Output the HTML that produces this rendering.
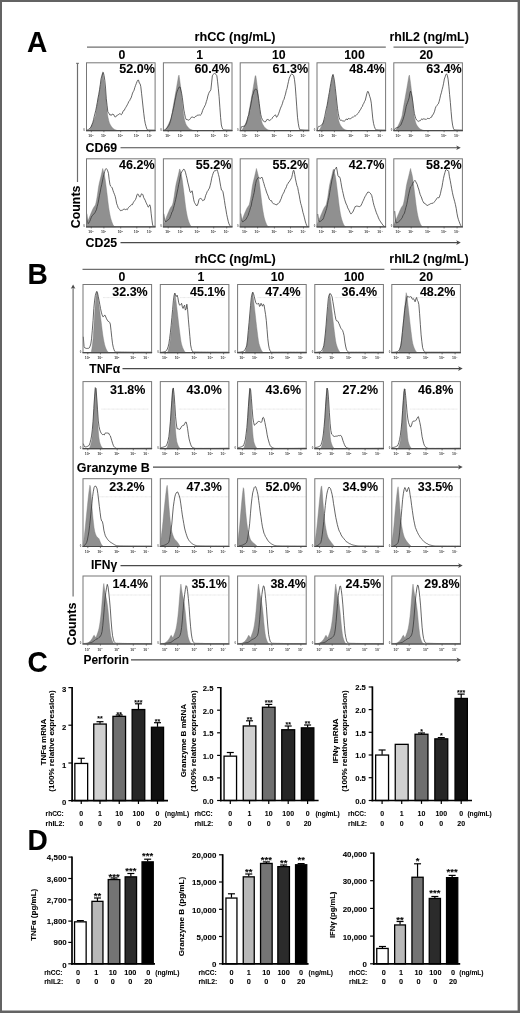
<!DOCTYPE html>
<html lang="en"><head><meta charset="utf-8"><title>Figure</title>
<style>html,body{margin:0;padding:0;background:#fff}body{width:520px;height:1013px;overflow:hidden}svg{display:block;font-family:"Liberation Sans",sans-serif;font-weight:bold}text{stroke:#000;stroke-width:.07px}.t{stroke:none}</style></head><body>
<svg width="520" height="1013" viewBox="0 0 520 1013">
<rect x="0" y="0" width="520" height="1013" fill="#fff"/>
<path d="M0 0H520V1013H0Z M2 2V1010.5H517.6V2Z" fill="#636363" fill-rule="evenodd"/>
<text x="27" y="51.6" font-size="29.5" textLength="20.3" lengthAdjust="spacingAndGlyphs">A</text>
<text x="27.6" y="283.7" font-size="29.5" textLength="20.3" lengthAdjust="spacingAndGlyphs">B</text>
<text x="27.6" y="672.3" font-size="29.5" textLength="20.3" lengthAdjust="spacingAndGlyphs">C</text>
<text x="27.6" y="850.2" font-size="29.5" textLength="20.3" lengthAdjust="spacingAndGlyphs">D</text>
<line x1="87" y1="47.1" x2="385.8" y2="47.1" stroke="#4a4a4a" stroke-width="1"/>
<line x1="393.5" y1="47.1" x2="463.5" y2="47.1" stroke="#4a4a4a" stroke-width="1"/>
<text x="194.5" y="40.6" font-size="12.5" textLength="81" lengthAdjust="spacingAndGlyphs">rhCC (ng/mL)</text>
<text x="389.5" y="40.6" font-size="12.5" textLength="79.3" lengthAdjust="spacingAndGlyphs">rhIL2 (ng/mL)</text>
<text x="122" y="59.2" font-size="12.3" text-anchor="middle">0</text>
<text x="199.6" y="59.2" font-size="12.3" text-anchor="middle">1</text>
<text x="278.8" y="59.2" font-size="12.3" text-anchor="middle">10</text>
<text x="354.5" y="59.2" font-size="12.3" text-anchor="middle">100</text>
<text x="426.3" y="59.2" font-size="12.3" text-anchor="middle">20</text>
<g>
<path d="M86.5 130.6 L87.1 130.6 L87.7 130.6 L88.3 130.59 L88.9 130.25 L89.5 129.49 L90.1 128.46 L90.7 127.28 L91.3 126.09 L91.9 124.95 L92.5 123.68 L93.1 122.28 L93.7 120.76 L94.3 119.16 L94.9 117.52 L95.5 115.45 L96.1 111.77 L96.7 107.59 L97.3 104.01 L97.9 100.58 L98.5 97.09 L99.1 93.58 L99.7 90.07 L100.3 86.48 L100.9 82.78 L101.5 79.03 L102.1 75.34 L102.7 71.8 L103.3 75.4 L103.9 79.68 L104.5 84.49 L105.1 89.91 L105.7 96.16 L106.3 102.56 L106.9 108.84 L107.5 114.37 L108.1 117.69 L108.7 120.38 L109.3 122.48 L109.9 124 L110.5 125.08 L111.1 126.04 L111.7 126.88 L112.3 127.62 L112.9 128.24 L113.5 128.75 L114.1 129.16 L114.7 129.47 L115.3 129.73 L115.9 129.98 L116.5 130.2 L117.1 130.37 L117.7 130.51 L118.3 130.58 L118.3 130.6 L86.5 130.6 Z" fill="#909090" stroke="#777" stroke-width="0.4"/>
<path d="M86.8 129.55 L87.55 129.88 L88.3 129.53 L89.05 129.01 L89.8 128.24 L90.55 127.48 L91.3 126.44 L92.05 124.36 L92.8 122.53 L93.55 119.68 L94.3 116.2 L95.05 113.2 L95.8 110.25 L96.55 106.39 L97.3 102.44 L98.05 97.83 L98.8 94.26 L99.55 89.7 L100.3 84.47 L101.05 78.69 L101.8 76.07 L102.55 73.68 L103.3 72.48 L104.05 75.45 L104.8 80.21 L105.55 88.05 L106.3 98.77 L107.05 105.21 L107.8 111.52 L108.55 112.79 L109.3 113.89 L110.05 115.3 L110.8 114.62 L111.55 115.23 L112.3 114.02 L113.05 114.37 L113.8 114.67 L114.55 116.47 L115.3 117.11 L116.05 116.12 L116.8 115.86 L117.55 114.91 L118.3 114.71 L119.05 113.95 L119.8 113.76 L120.55 114.08 L121.3 114.72 L122.05 113.86 L122.8 111.92 L123.55 110.55 L124.3 110.33 L125.05 108.63 L125.8 107.39 L126.55 106.18 L127.3 104.74 L128.05 103.33 L128.8 101.53 L129.55 100.78 L130.3 99.08 L131.05 97.94 L131.8 95.64 L132.55 93.09 L133.3 91.62 L134.05 90.24 L134.8 87.54 L135.55 85.45 L136.3 83.54 L137.05 81.56 L137.8 80.18 L138.55 80.14 L139.3 83.2 L140.05 83.59 L140.8 86.65 L141.55 93.28 L142.3 100.06 L143.05 107.09 L143.8 113.7 L144.55 119.68 L145.3 123.76 L146.05 126.37 L146.8 128.86 L147.55 129.98 L148.3 130.03 L149.05 130.02 L149.8 130.05 L150.55 130.06 L151.3 130.07 L152.05 130.11 L152.8 130.12 L153.55 130.11 L154.3 130.11 L155.05 130.11" fill="none" stroke="#333" stroke-width="0.75" stroke-linejoin="round"/>
<rect x="86.5" y="62.8" width="68.6" height="67.8" fill="none" stroke="#777" stroke-width="1"/>
<line x1="91.3" y1="130.6" x2="91.3" y2="132.2" stroke="#444" stroke-width="0.7"/>
<text class="t" x="90.9" y="137.2" font-size="3.5" fill="#3c3c3c" text-anchor="middle">10<tspan dy="-1.4" font-size="2.4">0</tspan></text>
<line x1="103.9" y1="130.6" x2="103.9" y2="132.2" stroke="#444" stroke-width="0.7"/>
<text class="t" x="103.5" y="137.2" font-size="3.5" fill="#3c3c3c" text-anchor="middle">10<tspan dy="-1.4" font-size="2.4">1</tspan></text>
<line x1="120.7" y1="130.6" x2="120.7" y2="132.2" stroke="#444" stroke-width="0.7"/>
<text class="t" x="120.3" y="137.2" font-size="3.5" fill="#3c3c3c" text-anchor="middle">10<tspan dy="-1.4" font-size="2.4">2</tspan></text>
<line x1="136.8" y1="130.6" x2="136.8" y2="132.2" stroke="#444" stroke-width="0.7"/>
<text class="t" x="136.4" y="137.2" font-size="3.5" fill="#3c3c3c" text-anchor="middle">10<tspan dy="-1.4" font-size="2.4">3</tspan></text>
<line x1="149.8" y1="130.6" x2="149.8" y2="132.2" stroke="#444" stroke-width="0.7"/>
<text class="t" x="149.4" y="137.2" font-size="3.5" fill="#3c3c3c" text-anchor="middle">10<tspan dy="-1.4" font-size="2.4">4</tspan></text>
<text class="t" x="84.9" y="130.8" font-size="2.8" fill="#555" text-anchor="end">0</text>
<line x1="86" y1="130.6" x2="155.6" y2="130.6" stroke="#4a4a4a" stroke-width="1.2"/>
</g>
<text x="154.9" y="73" font-size="12.3" text-anchor="end" textLength="35.6" lengthAdjust="spacingAndGlyphs">52.0%</text>
<g>
<path d="M163.4 130.6 L164 130.6 L164.6 130.53 L165.2 130.06 L165.8 129.23 L166.4 128.18 L167 127.04 L167.6 125.94 L168.2 124.81 L168.8 123.55 L169.4 122.17 L170 120.69 L170.6 119.16 L171.2 117.51 L171.8 115.23 L172.4 111.14 L173 107.44 L173.6 104.09 L174.2 100.8 L174.8 97.45 L175.4 94.1 L176 90.73 L176.6 87.27 L177.2 83.7 L177.8 80.13 L178.4 76.55 L179 75.09 L179.6 79.15 L180.2 83.41 L180.8 88.17 L181.4 93.65 L182 99.69 L182.6 105.88 L183.2 111.69 L183.8 116.25 L184.4 119.18 L185 121.56 L185.6 123.39 L186.2 124.65 L186.8 125.64 L187.4 126.52 L188 127.29 L188.6 127.96 L189.2 128.52 L189.8 128.98 L190.4 129.33 L191 129.6 L191.6 129.85 L192.2 130.08 L192.8 130.27 L193.4 130.43 L194 130.54 L194.6 130.6 L194.6 130.6 L163.4 130.6 Z" fill="#909090" stroke="#777" stroke-width="0.4"/>
<path d="M163.6 129.3 L164.35 129.9 L165.1 129.55 L165.85 129.04 L166.6 128.48 L167.35 127.56 L168.1 126.48 L168.85 125.4 L169.6 123.63 L170.35 121.52 L171.1 118.68 L171.85 114.88 L172.6 112.34 L173.35 108.77 L174.1 105.67 L174.85 101.15 L175.6 97.82 L176.35 93.87 L177.1 91.55 L177.85 89.5 L178.6 87.98 L179.35 86.93 L180.1 87.03 L180.85 90.03 L181.6 93.21 L182.35 97.76 L183.1 103.81 L183.85 109.9 L184.6 113.67 L185.35 117.37 L186.1 119.46 L186.85 119.59 L187.6 119.73 L188.35 120.12 L189.1 120.01 L189.85 119.25 L190.6 118.33 L191.35 117.22 L192.1 116.85 L192.85 117.25 L193.6 117.48 L194.35 117.7 L195.1 116.87 L195.85 116.04 L196.6 116.12 L197.35 115.19 L198.1 114.76 L198.85 115.44 L199.6 114.95 L200.35 115.21 L201.1 114.55 L201.85 112.9 L202.6 110.53 L203.35 108.71 L204.1 107.36 L204.85 105.82 L205.6 104.34 L206.35 101.54 L207.1 99.33 L207.85 95.96 L208.6 93.67 L209.35 91.97 L210.1 91 L210.85 89.81 L211.6 82.94 L212.35 75.83 L213.1 74.67 L213.85 73.84 L214.6 72.98 L215.35 73.72 L216.1 74.84 L216.85 75.71 L217.6 81.8 L218.35 88.84 L219.1 96.71 L219.85 107.18 L220.6 117.35 L221.35 124.97 L222.1 127.58 L222.85 129.29 L223.6 129.81 L224.35 129.89 L225.1 129.9 L225.85 129.96 L226.6 130.01 L227.35 130.04 L228.1 130.03 L228.85 130.08 L229.6 130.08 L230.35 130.1 L231.1 130.1 L231.85 130.12" fill="none" stroke="#333" stroke-width="0.75" stroke-linejoin="round"/>
<rect x="163.4" y="62.8" width="68.6" height="67.8" fill="none" stroke="#777" stroke-width="1"/>
<line x1="168.2" y1="130.6" x2="168.2" y2="132.2" stroke="#444" stroke-width="0.7"/>
<text class="t" x="167.8" y="137.2" font-size="3.5" fill="#3c3c3c" text-anchor="middle">10<tspan dy="-1.4" font-size="2.4">0</tspan></text>
<line x1="180.8" y1="130.6" x2="180.8" y2="132.2" stroke="#444" stroke-width="0.7"/>
<text class="t" x="180.4" y="137.2" font-size="3.5" fill="#3c3c3c" text-anchor="middle">10<tspan dy="-1.4" font-size="2.4">1</tspan></text>
<line x1="197.6" y1="130.6" x2="197.6" y2="132.2" stroke="#444" stroke-width="0.7"/>
<text class="t" x="197.2" y="137.2" font-size="3.5" fill="#3c3c3c" text-anchor="middle">10<tspan dy="-1.4" font-size="2.4">2</tspan></text>
<line x1="213.7" y1="130.6" x2="213.7" y2="132.2" stroke="#444" stroke-width="0.7"/>
<text class="t" x="213.3" y="137.2" font-size="3.5" fill="#3c3c3c" text-anchor="middle">10<tspan dy="-1.4" font-size="2.4">3</tspan></text>
<line x1="226.7" y1="130.6" x2="226.7" y2="132.2" stroke="#444" stroke-width="0.7"/>
<text class="t" x="226.3" y="137.2" font-size="3.5" fill="#3c3c3c" text-anchor="middle">10<tspan dy="-1.4" font-size="2.4">4</tspan></text>
<text class="t" x="161.8" y="130.8" font-size="2.8" fill="#555" text-anchor="end">0</text>
<line x1="162.9" y1="130.6" x2="232.5" y2="130.6" stroke="#4a4a4a" stroke-width="1.2"/>
</g>
<text x="230" y="73" font-size="12.3" text-anchor="end" textLength="35.6" lengthAdjust="spacingAndGlyphs">60.4%</text>
<g>
<path d="M240.2 130.6 L240.8 130.6 L241.4 130.49 L242 129.94 L242.6 129.07 L243.2 128 L243.8 126.85 L244.4 125.76 L245 124.61 L245.6 123.33 L246.2 121.93 L246.8 120.44 L247.4 118.9 L248 117.2 L248.6 114.66 L249.2 110.45 L249.8 106.87 L250.4 103.54 L251 100.25 L251.6 96.89 L252.2 93.54 L252.8 90.16 L253.4 86.68 L254 83.1 L254.6 79.54 L255.2 75.81 L255.8 75.77 L256.4 79.82 L257 84.17 L257.6 89.01 L258.2 94.65 L258.8 100.69 L259.4 106.9 L260 112.62 L260.6 116.78 L261.2 119.62 L261.8 121.91 L262.4 123.64 L263 124.82 L263.6 125.8 L264.2 126.66 L264.8 127.41 L265.4 128.06 L266 128.6 L266.6 129.04 L267.2 129.38 L267.8 129.65 L268.4 129.89 L269 130.11 L269.6 130.3 L270.2 130.45 L270.8 130.56 L271.4 130.6 L271.4 130.6 L240.2 130.6 Z" fill="#909090" stroke="#777" stroke-width="0.4"/>
<path d="M240.5 130 L241.25 126.92 L242 126.52 L242.75 126.57 L243.5 126.32 L244.25 126.3 L245 125.74 L245.75 124.46 L246.5 122.9 L247.25 119.87 L248 116.5 L248.75 114.9 L249.5 110.52 L250.25 107.83 L251 103.88 L251.75 99.58 L252.5 95.47 L253.25 93.84 L254 90.88 L254.75 89.66 L255.5 89.24 L256.25 89.21 L257 89.93 L257.75 93.93 L258.5 98.26 L259.25 103.6 L260 109.47 L260.75 114.49 L261.5 117.49 L262.25 119.24 L263 120.74 L263.75 121.18 L264.5 121.7 L265.25 121.98 L266 121.03 L266.75 119.92 L267.5 118.98 L268.25 119.93 L269 120.24 L269.75 120.5 L270.5 119.81 L271.25 119.33 L272 118.59 L272.75 117.13 L273.5 116.5 L274.25 115.75 L275 114.79 L275.75 115.29 L276.5 117.23 L277.25 116.62 L278 115.15 L278.75 113.26 L279.5 111.14 L280.25 108.85 L281 106.99 L281.75 105.39 L282.5 103.25 L283.25 100.5 L284 99.34 L284.75 96.48 L285.5 94.15 L286.25 90.65 L287 88.49 L287.75 84.72 L288.5 81.41 L289.25 78.17 L290 76.48 L290.75 74.73 L291.5 74.04 L292.25 74.4 L293 74.69 L293.75 75.82 L294.5 79.61 L295.25 86.12 L296 96.23 L296.75 106.88 L297.5 117.22 L298.25 123.21 L299 127.33 L299.75 129.6 L300.5 129.73 L301.25 129.78 L302 129.84 L302.75 129.92 L303.5 129.95 L304.25 130.02 L305 130.04 L305.75 130.08 L306.5 130.09 L307.25 130.08 L308 130.11 L308.75 130.11" fill="none" stroke="#333" stroke-width="0.75" stroke-linejoin="round"/>
<rect x="240.2" y="62.8" width="68.6" height="67.8" fill="none" stroke="#777" stroke-width="1"/>
<line x1="245" y1="130.6" x2="245" y2="132.2" stroke="#444" stroke-width="0.7"/>
<text class="t" x="244.6" y="137.2" font-size="3.5" fill="#3c3c3c" text-anchor="middle">10<tspan dy="-1.4" font-size="2.4">0</tspan></text>
<line x1="257.6" y1="130.6" x2="257.6" y2="132.2" stroke="#444" stroke-width="0.7"/>
<text class="t" x="257.2" y="137.2" font-size="3.5" fill="#3c3c3c" text-anchor="middle">10<tspan dy="-1.4" font-size="2.4">1</tspan></text>
<line x1="274.4" y1="130.6" x2="274.4" y2="132.2" stroke="#444" stroke-width="0.7"/>
<text class="t" x="274" y="137.2" font-size="3.5" fill="#3c3c3c" text-anchor="middle">10<tspan dy="-1.4" font-size="2.4">2</tspan></text>
<line x1="290.5" y1="130.6" x2="290.5" y2="132.2" stroke="#444" stroke-width="0.7"/>
<text class="t" x="290.1" y="137.2" font-size="3.5" fill="#3c3c3c" text-anchor="middle">10<tspan dy="-1.4" font-size="2.4">3</tspan></text>
<line x1="303.5" y1="130.6" x2="303.5" y2="132.2" stroke="#444" stroke-width="0.7"/>
<text class="t" x="303.1" y="137.2" font-size="3.5" fill="#3c3c3c" text-anchor="middle">10<tspan dy="-1.4" font-size="2.4">4</tspan></text>
<text class="t" x="238.6" y="130.8" font-size="2.8" fill="#555" text-anchor="end">0</text>
<line x1="239.7" y1="130.6" x2="309.3" y2="130.6" stroke="#4a4a4a" stroke-width="1.2"/>
</g>
<text x="308.2" y="73" font-size="12.3" text-anchor="end" textLength="35.6" lengthAdjust="spacingAndGlyphs">61.3%</text>
<g>
<path d="M317 130.6 L317.6 130.6 L318.2 130.6 L318.8 130.42 L319.4 129.81 L320 128.89 L320.6 127.79 L321.2 126.64 L321.8 125.55 L322.4 124.38 L323 123.07 L323.6 121.64 L324.2 120.13 L324.8 118.58 L325.4 116.79 L326 113.93 L326.6 109.69 L327.2 106.18 L327.8 102.85 L328.4 99.52 L329 96.15 L329.6 92.78 L330.2 89.37 L330.8 85.85 L331.4 82.25 L332 78.67 L332.6 74.82 L333.2 76.23 L333.8 80.24 L334.4 84.7 L335 89.66 L335.6 95.47 L336.2 101.56 L336.8 107.78 L337.4 113.43 L338 117.22 L338.6 119.98 L339.2 122.19 L339.8 123.83 L340.4 124.96 L341 125.92 L341.6 126.77 L342.2 127.51 L342.8 128.14 L343.4 128.67 L344 129.1 L344.6 129.43 L345.2 129.68 L345.8 129.93 L346.4 130.15 L347 130.33 L347.6 130.47 L348.2 130.57 L348.8 130.6 L348.8 130.6 L317 130.6 Z" fill="#909090" stroke="#777" stroke-width="0.4"/>
<path d="M317.3 129.99 L318.05 127.16 L318.8 126.29 L319.55 126.34 L320.3 125.93 L321.05 125.42 L321.8 124.92 L322.55 124.06 L323.3 122.23 L324.05 119.21 L324.8 116.13 L325.55 112.08 L326.3 108.53 L327.05 105.57 L327.8 101.17 L328.55 96.51 L329.3 92.58 L330.05 87.78 L330.8 83.49 L331.55 79.48 L332.3 76.31 L333.05 74.41 L333.8 77.43 L334.55 81.9 L335.3 88.26 L336.05 94.73 L336.8 102 L337.55 108.69 L338.3 113.84 L339.05 117.41 L339.8 119.28 L340.55 120.43 L341.3 120.19 L342.05 120.54 L342.8 121.03 L343.55 120.98 L344.3 121.41 L345.05 120.45 L345.8 119.36 L346.55 118.98 L347.3 119.97 L348.05 118.66 L348.8 118.51 L349.55 118.77 L350.3 118.75 L351.05 118.4 L351.8 117.67 L352.55 117.15 L353.3 117.27 L354.05 116.52 L354.8 115.45 L355.55 115.92 L356.3 115.22 L357.05 114.24 L357.8 113.52 L358.55 112.83 L359.3 111.43 L360.05 109.98 L360.8 109.28 L361.55 107.35 L362.3 106.59 L363.05 104.43 L363.8 103.27 L364.55 101.45 L365.3 100.13 L366.05 96.97 L366.8 93.77 L367.55 91.5 L368.3 91.67 L369.05 94.05 L369.8 96.68 L370.55 98.88 L371.3 103.18 L372.05 111.08 L372.8 118.79 L373.55 123.42 L374.3 126.38 L375.05 128.34 L375.8 129.72 L376.55 129.84 L377.3 129.84 L378.05 129.94 L378.8 129.97 L379.55 129.99 L380.3 130.04 L381.05 130.07 L381.8 130.06 L382.55 130.08 L383.3 130.08 L384.05 130.08 L384.8 130.1 L385.55 130.11" fill="none" stroke="#333" stroke-width="0.75" stroke-linejoin="round"/>
<rect x="317" y="62.8" width="68.6" height="67.8" fill="none" stroke="#777" stroke-width="1"/>
<line x1="321.8" y1="130.6" x2="321.8" y2="132.2" stroke="#444" stroke-width="0.7"/>
<text class="t" x="321.4" y="137.2" font-size="3.5" fill="#3c3c3c" text-anchor="middle">10<tspan dy="-1.4" font-size="2.4">0</tspan></text>
<line x1="334.4" y1="130.6" x2="334.4" y2="132.2" stroke="#444" stroke-width="0.7"/>
<text class="t" x="334" y="137.2" font-size="3.5" fill="#3c3c3c" text-anchor="middle">10<tspan dy="-1.4" font-size="2.4">1</tspan></text>
<line x1="351.2" y1="130.6" x2="351.2" y2="132.2" stroke="#444" stroke-width="0.7"/>
<text class="t" x="350.8" y="137.2" font-size="3.5" fill="#3c3c3c" text-anchor="middle">10<tspan dy="-1.4" font-size="2.4">2</tspan></text>
<line x1="367.3" y1="130.6" x2="367.3" y2="132.2" stroke="#444" stroke-width="0.7"/>
<text class="t" x="366.9" y="137.2" font-size="3.5" fill="#3c3c3c" text-anchor="middle">10<tspan dy="-1.4" font-size="2.4">3</tspan></text>
<line x1="380.3" y1="130.6" x2="380.3" y2="132.2" stroke="#444" stroke-width="0.7"/>
<text class="t" x="379.9" y="137.2" font-size="3.5" fill="#3c3c3c" text-anchor="middle">10<tspan dy="-1.4" font-size="2.4">4</tspan></text>
<text class="t" x="315.4" y="130.8" font-size="2.8" fill="#555" text-anchor="end">0</text>
<line x1="316.5" y1="130.6" x2="386.1" y2="130.6" stroke="#4a4a4a" stroke-width="1.2"/>
</g>
<text x="384.8" y="73" font-size="12.3" text-anchor="end" textLength="35.6" lengthAdjust="spacingAndGlyphs">48.4%</text>
<g>
<path d="M393.8 130.6 L394.4 130.6 L395 130.53 L395.6 130.06 L396.2 129.23 L396.8 128.18 L397.4 127.04 L398 125.94 L398.6 124.81 L399.2 123.55 L399.8 122.17 L400.4 120.69 L401 119.16 L401.6 117.51 L402.2 115.23 L402.8 111.14 L403.4 107.44 L404 104.09 L404.6 100.8 L405.2 97.45 L405.8 94.1 L406.4 90.73 L407 87.27 L407.6 83.7 L408.2 80.13 L408.8 76.55 L409.4 75.09 L410 79.15 L410.6 83.41 L411.2 88.17 L411.8 93.65 L412.4 99.69 L413 105.88 L413.6 111.69 L414.2 116.25 L414.8 119.18 L415.4 121.56 L416 123.39 L416.6 124.65 L417.2 125.64 L417.8 126.52 L418.4 127.29 L419 127.96 L419.6 128.52 L420.2 128.98 L420.8 129.33 L421.4 129.6 L422 129.85 L422.6 130.08 L423.2 130.27 L423.8 130.43 L424.4 130.54 L425 130.6 L425 130.6 L393.8 130.6 Z" fill="#909090" stroke="#777" stroke-width="0.4"/>
<path d="M394.1 129.99 L394.85 128.65 L395.6 128.29 L396.35 127.77 L397.1 127.65 L397.85 127.57 L398.6 127.11 L399.35 126.54 L400.1 125.78 L400.85 124.97 L401.6 123.13 L402.35 121.32 L403.1 119.32 L403.85 116.74 L404.6 114.11 L405.35 110.77 L406.1 106.76 L406.85 104.34 L407.6 102.5 L408.35 100.32 L409.1 97.92 L409.85 93.23 L410.6 91.09 L411.35 93.5 L412.1 96.99 L412.85 102.07 L413.6 108.13 L414.35 113.48 L415.1 116.2 L415.85 118.58 L416.6 120.06 L417.35 120.7 L418.1 120.96 L418.85 121.49 L419.6 120.75 L420.35 120.63 L421.1 119.78 L421.85 118.7 L422.6 119.59 L423.35 118.85 L424.1 119.29 L424.85 118.89 L425.6 119.34 L426.35 119.41 L427.1 118.62 L427.85 118.26 L428.6 118.55 L429.35 118.63 L430.1 117.87 L430.85 117.4 L431.6 117.17 L432.35 115.13 L433.1 114.73 L433.85 113.06 L434.6 111.2 L435.35 108.23 L436.1 106.48 L436.85 105.73 L437.6 104.45 L438.35 103.81 L439.1 101.6 L439.85 98.63 L440.6 95.17 L441.35 92.8 L442.1 89.59 L442.85 86.82 L443.6 83.23 L444.35 79.03 L445.1 76.94 L445.85 74.75 L446.6 73.81 L447.35 75.41 L448.1 79.22 L448.85 86.18 L449.6 94.59 L450.35 102.34 L451.1 111.47 L451.85 119.86 L452.6 125.14 L453.35 128.24 L454.1 129.79 L454.85 129.79 L455.6 129.9 L456.35 129.94 L457.1 129.99 L457.85 130.02 L458.6 130.04 L459.35 130.08 L460.1 130.11 L460.85 130.05 L461.6 130.09 L462.35 130.1" fill="none" stroke="#333" stroke-width="0.75" stroke-linejoin="round"/>
<rect x="393.8" y="62.8" width="68.6" height="67.8" fill="none" stroke="#777" stroke-width="1"/>
<line x1="398.6" y1="130.6" x2="398.6" y2="132.2" stroke="#444" stroke-width="0.7"/>
<text class="t" x="398.2" y="137.2" font-size="3.5" fill="#3c3c3c" text-anchor="middle">10<tspan dy="-1.4" font-size="2.4">0</tspan></text>
<line x1="411.2" y1="130.6" x2="411.2" y2="132.2" stroke="#444" stroke-width="0.7"/>
<text class="t" x="410.8" y="137.2" font-size="3.5" fill="#3c3c3c" text-anchor="middle">10<tspan dy="-1.4" font-size="2.4">1</tspan></text>
<line x1="428" y1="130.6" x2="428" y2="132.2" stroke="#444" stroke-width="0.7"/>
<text class="t" x="427.6" y="137.2" font-size="3.5" fill="#3c3c3c" text-anchor="middle">10<tspan dy="-1.4" font-size="2.4">2</tspan></text>
<line x1="444.1" y1="130.6" x2="444.1" y2="132.2" stroke="#444" stroke-width="0.7"/>
<text class="t" x="443.7" y="137.2" font-size="3.5" fill="#3c3c3c" text-anchor="middle">10<tspan dy="-1.4" font-size="2.4">3</tspan></text>
<line x1="457.1" y1="130.6" x2="457.1" y2="132.2" stroke="#444" stroke-width="0.7"/>
<text class="t" x="456.7" y="137.2" font-size="3.5" fill="#3c3c3c" text-anchor="middle">10<tspan dy="-1.4" font-size="2.4">4</tspan></text>
<text class="t" x="392.2" y="130.8" font-size="2.8" fill="#555" text-anchor="end">0</text>
<line x1="393.3" y1="130.6" x2="462.9" y2="130.6" stroke="#4a4a4a" stroke-width="1.2"/>
</g>
<text x="461.8" y="73" font-size="12.3" text-anchor="end" textLength="35.6" lengthAdjust="spacingAndGlyphs">63.4%</text>
<text x="85.6" y="152.3" font-size="12.3" textLength="31.5" lengthAdjust="spacingAndGlyphs">CD69</text>
<line x1="120.5" y1="147.7" x2="458.3" y2="147.7" stroke="#4a4a4a" stroke-width="1.1"/>
<path d="M460.8 147.7L456.2 145.4L457.4 147.7L456.2 150Z" fill="#4a4a4a"/>
<g>
<path d="M86.5 224.8 L87.1 223.17 L87.7 221.57 L88.3 220 L88.9 218.47 L89.5 216.97 L90.1 215.51 L90.7 214.07 L91.3 212.61 L91.9 211.18 L92.5 209.81 L93.1 208.55 L93.7 207.43 L94.3 206.58 L94.9 205.85 L95.5 204.64 L96.1 202.28 L96.7 199.31 L97.3 195.69 L97.9 191.4 L98.5 187.23 L99.1 183.94 L99.7 181.33 L100.3 179 L100.9 176.62 L101.5 174.03 L102.1 171.38 L102.7 168.49 L103.3 170.64 L103.9 172.97 L104.5 175.41 L105.1 178.88 L105.7 183.28 L106.3 188.1 L106.9 192.82 L107.5 197.79 L108.1 202.9 L108.7 207.53 L109.3 211.25 L109.9 214.54 L110.5 217.38 L111.1 219.6 L111.7 221.42 L112.3 223.07 L112.9 224.47 L113.5 225.53 L114.1 226.18 L114.7 226.61 L115.3 226.8 L115.3 226.8 L86.5 226.8 Z" fill="#909090" stroke="#777" stroke-width="0.4"/>
<path d="M86.7 213.7 L87.45 221.23 L88.2 223.64 L88.95 222.8 L89.7 221.43 L90.45 219.62 L91.2 217.58 L91.95 215.96 L92.7 215.27 L93.45 214.32 L94.2 213.76 L94.95 212.66 L95.7 211.18 L96.45 209.7 L97.2 206.42 L97.95 203.61 L98.7 199.9 L99.45 195.3 L100.2 192.21 L100.95 187.85 L101.7 184.71 L102.45 181.04 L103.2 177.23 L103.95 174.44 L104.7 171.47 L105.45 169.32 L106.2 168.51 L106.95 169.34 L107.7 170.82 L108.45 173.31 L109.2 179.68 L109.95 184.45 L110.7 186.27 L111.45 186.95 L112.2 187.85 L112.95 190.32 L113.7 192.48 L114.45 194.27 L115.2 196.32 L115.95 199.74 L116.7 203.81 L117.45 205.5 L118.2 207.8 L118.95 208.78 L119.7 209.59 L120.45 210.73 L121.2 210.35 L121.95 210.5 L122.7 210.11 L123.45 209.26 L124.2 209.13 L124.95 209.27 L125.7 209.65 L126.45 209.18 L127.2 209.8 L127.95 208.39 L128.7 207.32 L129.45 206.52 L130.2 205.94 L130.95 205.5 L131.7 204.42 L132.45 204.62 L133.2 202.79 L133.95 201.6 L134.7 200.64 L135.45 199.6 L136.2 197.8 L136.95 194.95 L137.7 193.91 L138.45 194.55 L139.2 196.29 L139.95 197.18 L140.7 195.76 L141.45 193.83 L142.2 194 L142.95 194.8 L143.7 197.62 L144.45 198.93 L145.2 200.27 L145.95 202.29 L146.7 203.88 L147.45 205.42 L148.2 207.15 L148.95 206.51 L149.7 204.78 L150.45 206.46 L151.2 213.84 L151.95 220.21 L152.7 225.33 L153.45 226.11 L154.2 226.26 L154.95 226.29" fill="none" stroke="#333" stroke-width="0.75" stroke-linejoin="round"/>
<rect x="86.5" y="158.8" width="68.6" height="68" fill="none" stroke="#777" stroke-width="1"/>
<line x1="91.3" y1="226.8" x2="91.3" y2="228.4" stroke="#444" stroke-width="0.7"/>
<text class="t" x="90.9" y="233.4" font-size="3.5" fill="#3c3c3c" text-anchor="middle">10<tspan dy="-1.4" font-size="2.4">0</tspan></text>
<line x1="103.9" y1="226.8" x2="103.9" y2="228.4" stroke="#444" stroke-width="0.7"/>
<text class="t" x="103.5" y="233.4" font-size="3.5" fill="#3c3c3c" text-anchor="middle">10<tspan dy="-1.4" font-size="2.4">1</tspan></text>
<line x1="120.7" y1="226.8" x2="120.7" y2="228.4" stroke="#444" stroke-width="0.7"/>
<text class="t" x="120.3" y="233.4" font-size="3.5" fill="#3c3c3c" text-anchor="middle">10<tspan dy="-1.4" font-size="2.4">2</tspan></text>
<line x1="136.8" y1="226.8" x2="136.8" y2="228.4" stroke="#444" stroke-width="0.7"/>
<text class="t" x="136.4" y="233.4" font-size="3.5" fill="#3c3c3c" text-anchor="middle">10<tspan dy="-1.4" font-size="2.4">3</tspan></text>
<line x1="149.8" y1="226.8" x2="149.8" y2="228.4" stroke="#444" stroke-width="0.7"/>
<text class="t" x="149.4" y="233.4" font-size="3.5" fill="#3c3c3c" text-anchor="middle">10<tspan dy="-1.4" font-size="2.4">4</tspan></text>
<text class="t" x="84.9" y="227" font-size="2.8" fill="#555" text-anchor="end">0</text>
<line x1="86" y1="226.8" x2="155.6" y2="226.8" stroke="#4a4a4a" stroke-width="1.2"/>
</g>
<text x="154.7" y="169.4" font-size="12.3" text-anchor="end" textLength="35.6" lengthAdjust="spacingAndGlyphs">46.2%</text>
<g>
<path d="M163.4 224.8 L164 223.22 L164.6 221.67 L165.2 220.15 L165.8 218.65 L166.4 217.19 L167 215.75 L167.6 214.32 L168.2 212.87 L168.8 211.43 L169.4 210.04 L170 208.75 L170.6 207.61 L171.2 206.7 L171.8 205.99 L172.4 204.92 L173 202.74 L173.6 199.81 L174.2 196.36 L174.8 192.12 L175.4 187.88 L176 184.42 L176.6 181.74 L177.2 179.38 L177.8 177.03 L178.4 174.47 L179 171.82 L179.6 168.96 L180.2 170.12 L180.8 172.61 L181.4 174.95 L182 178.22 L182.6 182.51 L183.2 187.29 L183.8 192.05 L184.4 196.94 L185 202.06 L185.6 206.82 L186.2 210.67 L186.8 214.02 L187.4 216.94 L188 219.28 L188.6 221.13 L189.2 222.81 L189.8 224.26 L190.4 225.38 L191 226.1 L191.6 226.55 L192.2 226.79 L192.2 226.8 L163.4 226.8 Z" fill="#909090" stroke="#777" stroke-width="0.4"/>
<path d="M163.7 213.72 L164.45 219.5 L165.2 221.52 L165.95 221.6 L166.7 221.22 L167.45 220.24 L168.2 219.74 L168.95 219.3 L169.7 218.37 L170.45 216.33 L171.2 214.57 L171.95 212.03 L172.7 211.18 L173.45 208.14 L174.2 205.58 L174.95 202.47 L175.7 199.33 L176.45 195.88 L177.2 192.03 L177.95 188.54 L178.7 184.4 L179.45 181.18 L180.2 176.91 L180.95 173.62 L181.7 171.95 L182.45 170.89 L183.2 169.61 L183.95 169.09 L184.7 170.34 L185.45 172.19 L186.2 175.31 L186.95 178.25 L187.7 182.1 L188.45 184.99 L189.2 188.13 L189.95 191.54 L190.7 192.66 L191.45 191.32 L192.2 190.85 L192.95 195.38 L193.7 199.82 L194.45 202.44 L195.2 203.69 L195.95 204.89 L196.7 205.99 L197.45 205 L198.2 203.05 L198.95 199.7 L199.7 198.61 L200.45 198.44 L201.2 198.74 L201.95 199.41 L202.7 200.71 L203.45 200.26 L204.2 200.09 L204.95 198.26 L205.7 195.3 L206.45 193.74 L207.2 191.61 L207.95 190.74 L208.7 189.14 L209.45 188.17 L210.2 185.32 L210.95 182.25 L211.7 178.21 L212.45 175.53 L213.2 173.21 L213.95 171.4 L214.7 170.79 L215.45 170.69 L216.2 170.47 L216.95 169.62 L217.7 171.45 L218.45 174.44 L219.2 177.34 L219.95 182.04 L220.7 186.27 L221.45 190.01 L222.2 190.38 L222.95 191.79 L223.7 196 L224.45 200.65 L225.2 205.62 L225.95 209.8 L226.7 214.42 L227.45 217.8 L228.2 221.22 L228.95 223.79 L229.7 225.28 L230.45 226.32 L231.2 226.38 L231.95 226.3" fill="none" stroke="#333" stroke-width="0.75" stroke-linejoin="round"/>
<rect x="163.4" y="158.8" width="68.6" height="68" fill="none" stroke="#777" stroke-width="1"/>
<line x1="168.2" y1="226.8" x2="168.2" y2="228.4" stroke="#444" stroke-width="0.7"/>
<text class="t" x="167.8" y="233.4" font-size="3.5" fill="#3c3c3c" text-anchor="middle">10<tspan dy="-1.4" font-size="2.4">0</tspan></text>
<line x1="180.8" y1="226.8" x2="180.8" y2="228.4" stroke="#444" stroke-width="0.7"/>
<text class="t" x="180.4" y="233.4" font-size="3.5" fill="#3c3c3c" text-anchor="middle">10<tspan dy="-1.4" font-size="2.4">1</tspan></text>
<line x1="197.6" y1="226.8" x2="197.6" y2="228.4" stroke="#444" stroke-width="0.7"/>
<text class="t" x="197.2" y="233.4" font-size="3.5" fill="#3c3c3c" text-anchor="middle">10<tspan dy="-1.4" font-size="2.4">2</tspan></text>
<line x1="213.7" y1="226.8" x2="213.7" y2="228.4" stroke="#444" stroke-width="0.7"/>
<text class="t" x="213.3" y="233.4" font-size="3.5" fill="#3c3c3c" text-anchor="middle">10<tspan dy="-1.4" font-size="2.4">3</tspan></text>
<line x1="226.7" y1="226.8" x2="226.7" y2="228.4" stroke="#444" stroke-width="0.7"/>
<text class="t" x="226.3" y="233.4" font-size="3.5" fill="#3c3c3c" text-anchor="middle">10<tspan dy="-1.4" font-size="2.4">4</tspan></text>
<text class="t" x="161.8" y="227" font-size="2.8" fill="#555" text-anchor="end">0</text>
<line x1="162.9" y1="226.8" x2="232.5" y2="226.8" stroke="#4a4a4a" stroke-width="1.2"/>
</g>
<text x="231.4" y="169.4" font-size="12.3" text-anchor="end" textLength="35.6" lengthAdjust="spacingAndGlyphs">55.2%</text>
<g>
<path d="M240.2 224.8 L240.8 223.17 L241.4 221.57 L242 220 L242.6 218.47 L243.2 216.97 L243.8 215.51 L244.4 214.07 L245 212.61 L245.6 211.18 L246.2 209.81 L246.8 208.55 L247.4 207.43 L248 206.58 L248.6 205.85 L249.2 204.64 L249.8 202.28 L250.4 199.31 L251 195.69 L251.6 191.4 L252.2 187.23 L252.8 183.94 L253.4 181.33 L254 179 L254.6 176.62 L255.2 174.03 L255.8 171.38 L256.4 168.49 L257 170.64 L257.6 172.97 L258.2 175.41 L258.8 178.88 L259.4 183.28 L260 188.1 L260.6 192.82 L261.2 197.79 L261.8 202.9 L262.4 207.53 L263 211.25 L263.6 214.54 L264.2 217.38 L264.8 219.6 L265.4 221.42 L266 223.07 L266.6 224.47 L267.2 225.53 L267.8 226.18 L268.4 226.61 L269 226.8 L269 226.8 L240.2 226.8 Z" fill="#909090" stroke="#777" stroke-width="0.4"/>
<path d="M240.7 213.54 L241.45 219.8 L242.2 221.74 L242.95 221.51 L243.7 221.23 L244.45 220.57 L245.2 219.96 L245.95 219.52 L246.7 217.95 L247.45 216.58 L248.2 215.2 L248.95 212.56 L249.7 210.54 L250.45 207.76 L251.2 205.95 L251.95 201.45 L252.7 198.61 L253.45 195.3 L254.2 192.5 L254.95 187.66 L255.7 183.34 L256.45 180.17 L257.2 179.11 L257.95 177.87 L258.7 177.47 L259.45 178.02 L260.2 178.59 L260.95 178.02 L261.7 177.03 L262.45 178.22 L263.2 181.36 L263.95 183.58 L264.7 186.57 L265.45 188.47 L266.2 191.01 L266.95 193.23 L267.7 194.94 L268.45 196.8 L269.2 199.14 L269.95 200.07 L270.7 200.66 L271.45 200.61 L272.2 202.32 L272.95 203.19 L273.7 204.01 L274.45 203.96 L275.2 204.4 L275.95 204.64 L276.7 204.96 L277.45 203.86 L278.2 203.63 L278.95 202.6 L279.7 202.17 L280.45 200.08 L281.2 198.7 L281.95 196.22 L282.7 194.48 L283.45 193.16 L284.2 191.86 L284.95 189.35 L285.7 188.65 L286.45 186.68 L287.2 184.58 L287.95 183.62 L288.7 182.07 L289.45 181.65 L290.2 180.21 L290.95 179.06 L291.7 177.6 L292.45 174.3 L293.2 170.69 L293.95 170.42 L294.7 174.35 L295.45 178.86 L296.2 182.29 L296.95 185.63 L297.7 187.49 L298.45 191.61 L299.2 195.05 L299.95 199.64 L300.7 203.38 L301.45 205.74 L302.2 208.95 L302.95 212.42 L303.7 214.89 L304.45 217.85 L305.2 221.05 L305.95 223.49 L306.7 225.55 L307.45 226.39 L308.2 226.39" fill="none" stroke="#333" stroke-width="0.75" stroke-linejoin="round"/>
<rect x="240.2" y="158.8" width="68.6" height="68" fill="none" stroke="#777" stroke-width="1"/>
<line x1="245" y1="226.8" x2="245" y2="228.4" stroke="#444" stroke-width="0.7"/>
<text class="t" x="244.6" y="233.4" font-size="3.5" fill="#3c3c3c" text-anchor="middle">10<tspan dy="-1.4" font-size="2.4">0</tspan></text>
<line x1="257.6" y1="226.8" x2="257.6" y2="228.4" stroke="#444" stroke-width="0.7"/>
<text class="t" x="257.2" y="233.4" font-size="3.5" fill="#3c3c3c" text-anchor="middle">10<tspan dy="-1.4" font-size="2.4">1</tspan></text>
<line x1="274.4" y1="226.8" x2="274.4" y2="228.4" stroke="#444" stroke-width="0.7"/>
<text class="t" x="274" y="233.4" font-size="3.5" fill="#3c3c3c" text-anchor="middle">10<tspan dy="-1.4" font-size="2.4">2</tspan></text>
<line x1="290.5" y1="226.8" x2="290.5" y2="228.4" stroke="#444" stroke-width="0.7"/>
<text class="t" x="290.1" y="233.4" font-size="3.5" fill="#3c3c3c" text-anchor="middle">10<tspan dy="-1.4" font-size="2.4">3</tspan></text>
<line x1="303.5" y1="226.8" x2="303.5" y2="228.4" stroke="#444" stroke-width="0.7"/>
<text class="t" x="303.1" y="233.4" font-size="3.5" fill="#3c3c3c" text-anchor="middle">10<tspan dy="-1.4" font-size="2.4">4</tspan></text>
<text class="t" x="238.6" y="227" font-size="2.8" fill="#555" text-anchor="end">0</text>
<line x1="239.7" y1="226.8" x2="309.3" y2="226.8" stroke="#4a4a4a" stroke-width="1.2"/>
</g>
<text x="308.2" y="169.4" font-size="12.3" text-anchor="end" textLength="35.6" lengthAdjust="spacingAndGlyphs">55.2%</text>
<g>
<path d="M317 224.8 L317.6 223.28 L318.2 221.78 L318.8 220.29 L319.4 218.83 L320 217.39 L320.6 215.98 L321.2 214.57 L321.8 213.13 L322.4 211.68 L323 210.28 L323.6 208.97 L324.2 207.79 L324.8 206.82 L325.4 206.11 L326 205.15 L326.6 203.18 L327.2 200.31 L327.8 197.01 L328.4 192.85 L329 188.55 L329.6 184.91 L330.2 182.16 L330.8 179.77 L331.4 177.44 L332 174.9 L332.6 172.26 L333.2 169.53 L333.8 169.5 L334.4 172.24 L335 174.52 L335.6 177.59 L336.2 181.74 L336.8 186.48 L337.4 191.28 L338 196.09 L338.6 201.22 L339.2 206.08 L339.8 210.08 L340.4 213.48 L341 216.49 L341.6 218.94 L342.2 220.83 L342.8 222.54 L343.4 224.04 L344 225.22 L344.6 226.01 L345.2 226.48 L345.8 226.78 L345.8 226.8 L317 226.8 Z" fill="#909090" stroke="#777" stroke-width="0.4"/>
<path d="M317.7 214 L318.45 219.54 L319.2 221.61 L319.95 221.64 L320.7 221.17 L321.45 220.67 L322.2 219.65 L322.95 219.41 L323.7 217.6 L324.45 215.1 L325.2 213.13 L325.95 210.72 L326.7 208.4 L327.45 204.48 L328.2 200.46 L328.95 197.55 L329.7 192.62 L330.45 188.38 L331.2 184.1 L331.95 179.91 L332.7 176.91 L333.45 173.35 L334.2 171.06 L334.95 169.06 L335.7 168.35 L336.45 167.11 L337.2 170.97 L337.95 175.58 L338.7 176.76 L339.45 176.78 L340.2 178.26 L340.95 182.42 L341.7 186.94 L342.45 190.49 L343.2 193.65 L343.95 197.17 L344.7 199.66 L345.45 201.99 L346.2 204.06 L346.95 205.38 L347.7 207.84 L348.45 209.19 L349.2 210.65 L349.95 212.36 L350.7 213.76 L351.45 213.65 L352.2 212.51 L352.95 211.86 L353.7 209.95 L354.45 208.34 L355.2 206.52 L355.95 206.48 L356.7 206.04 L357.45 206.18 L358.2 206.49 L358.95 206.32 L359.7 206.61 L360.45 206.21 L361.2 205.07 L361.95 203.55 L362.7 201.64 L363.45 200.25 L364.2 198.51 L364.95 196.75 L365.7 195.65 L366.45 194.14 L367.2 193.07 L367.95 191.95 L368.7 192.26 L369.45 192.42 L370.2 193.12 L370.95 194.08 L371.7 195.41 L372.45 198.51 L373.2 202.25 L373.95 205.23 L374.7 207.68 L375.45 209.85 L376.2 212.24 L376.95 214.16 L377.7 215.69 L378.45 217.87 L379.2 219.42 L379.95 220.8 L380.7 221.91 L381.45 223.08 L382.2 224.04 L382.95 225.12 L383.7 225.96 L384.45 226.4 L385.2 226.37" fill="none" stroke="#333" stroke-width="0.75" stroke-linejoin="round"/>
<rect x="317" y="158.8" width="68.6" height="68" fill="none" stroke="#777" stroke-width="1"/>
<line x1="321.8" y1="226.8" x2="321.8" y2="228.4" stroke="#444" stroke-width="0.7"/>
<text class="t" x="321.4" y="233.4" font-size="3.5" fill="#3c3c3c" text-anchor="middle">10<tspan dy="-1.4" font-size="2.4">0</tspan></text>
<line x1="334.4" y1="226.8" x2="334.4" y2="228.4" stroke="#444" stroke-width="0.7"/>
<text class="t" x="334" y="233.4" font-size="3.5" fill="#3c3c3c" text-anchor="middle">10<tspan dy="-1.4" font-size="2.4">1</tspan></text>
<line x1="351.2" y1="226.8" x2="351.2" y2="228.4" stroke="#444" stroke-width="0.7"/>
<text class="t" x="350.8" y="233.4" font-size="3.5" fill="#3c3c3c" text-anchor="middle">10<tspan dy="-1.4" font-size="2.4">2</tspan></text>
<line x1="367.3" y1="226.8" x2="367.3" y2="228.4" stroke="#444" stroke-width="0.7"/>
<text class="t" x="366.9" y="233.4" font-size="3.5" fill="#3c3c3c" text-anchor="middle">10<tspan dy="-1.4" font-size="2.4">3</tspan></text>
<line x1="380.3" y1="226.8" x2="380.3" y2="228.4" stroke="#444" stroke-width="0.7"/>
<text class="t" x="379.9" y="233.4" font-size="3.5" fill="#3c3c3c" text-anchor="middle">10<tspan dy="-1.4" font-size="2.4">4</tspan></text>
<text class="t" x="315.4" y="227" font-size="2.8" fill="#555" text-anchor="end">0</text>
<line x1="316.5" y1="226.8" x2="386.1" y2="226.8" stroke="#4a4a4a" stroke-width="1.2"/>
</g>
<text x="384.4" y="169.4" font-size="12.3" text-anchor="end" textLength="35.6" lengthAdjust="spacingAndGlyphs">42.7%</text>
<g>
<path d="M393.8 224.8 L394.4 223.38 L395 221.97 L395.6 220.57 L396.2 219.17 L396.8 217.79 L397.4 216.41 L398 215.05 L398.6 213.64 L399.2 212.19 L399.8 210.76 L400.4 209.4 L401 208.17 L401.6 207.1 L402.2 206.35 L402.8 205.54 L403.4 203.97 L404 201.32 L404.6 198.22 L405.2 194.29 L405.8 189.95 L406.4 186 L407 183.02 L407.6 180.54 L408.2 178.23 L408.8 175.77 L409.4 173.15 L410 170.49 L410.6 168.47 L411.2 171.47 L411.8 173.72 L412.4 176.43 L413 180.27 L413.6 184.87 L414.2 189.71 L414.8 194.43 L415.4 199.51 L416 204.52 L416.6 208.87 L417.2 212.39 L417.8 215.54 L418.4 218.19 L419 220.22 L419.6 221.99 L420.2 223.57 L420.8 224.86 L421.4 225.8 L422 226.34 L422.6 226.71 L422.6 226.8 L393.8 226.8 Z" fill="#909090" stroke="#777" stroke-width="0.4"/>
<path d="M394.7 211.1 L395.45 219.98 L396.2 222.99 L396.95 222.73 L397.7 222.41 L398.45 221.97 L399.2 221.34 L399.95 220.63 L400.7 219.68 L401.45 218.69 L402.2 217.73 L402.95 215.65 L403.7 214.4 L404.45 213.11 L405.2 210.37 L405.95 207.26 L406.7 204.65 L407.45 200.74 L408.2 196.81 L408.95 193.21 L409.7 190.16 L410.45 186.99 L411.2 186.37 L411.95 185.49 L412.7 183.15 L413.45 181.97 L414.2 181.34 L414.95 180.35 L415.7 181.53 L416.45 183 L417.2 184.35 L417.95 187.05 L418.7 189.04 L419.45 191.83 L420.2 194.59 L420.95 196.21 L421.7 198 L422.45 200.3 L423.2 201.81 L423.95 203.15 L424.7 203.24 L425.45 204.14 L426.2 204.41 L426.95 205.6 L427.7 205.33 L428.45 204.89 L429.2 204.51 L429.95 204.16 L430.7 203.62 L431.45 203.47 L432.2 203.09 L432.95 203.45 L433.7 202.7 L434.45 201.78 L435.2 200.78 L435.95 199.96 L436.7 198.43 L437.45 197.79 L438.2 197.73 L438.95 197.83 L439.7 196.08 L440.45 193.69 L441.2 189.93 L441.95 187.2 L442.7 182.63 L443.45 178.47 L444.2 175.17 L444.95 172.48 L445.7 170.01 L446.45 169.55 L447.2 170.51 L447.95 170.34 L448.7 171.47 L449.45 176.77 L450.2 180.37 L450.95 184.54 L451.7 188.77 L452.45 192.74 L453.2 196.13 L453.95 198.9 L454.7 201.67 L455.45 204.69 L456.2 208.35 L456.95 213.17 L457.7 217.05 L458.45 219.58 L459.2 221.7 L459.95 223.76 L460.7 225.49 L461.45 226.4 L462.2 226.33" fill="none" stroke="#333" stroke-width="0.75" stroke-linejoin="round"/>
<rect x="393.8" y="158.8" width="68.6" height="68" fill="none" stroke="#777" stroke-width="1"/>
<line x1="398.6" y1="226.8" x2="398.6" y2="228.4" stroke="#444" stroke-width="0.7"/>
<text class="t" x="398.2" y="233.4" font-size="3.5" fill="#3c3c3c" text-anchor="middle">10<tspan dy="-1.4" font-size="2.4">0</tspan></text>
<line x1="411.2" y1="226.8" x2="411.2" y2="228.4" stroke="#444" stroke-width="0.7"/>
<text class="t" x="410.8" y="233.4" font-size="3.5" fill="#3c3c3c" text-anchor="middle">10<tspan dy="-1.4" font-size="2.4">1</tspan></text>
<line x1="428" y1="226.8" x2="428" y2="228.4" stroke="#444" stroke-width="0.7"/>
<text class="t" x="427.6" y="233.4" font-size="3.5" fill="#3c3c3c" text-anchor="middle">10<tspan dy="-1.4" font-size="2.4">2</tspan></text>
<line x1="444.1" y1="226.8" x2="444.1" y2="228.4" stroke="#444" stroke-width="0.7"/>
<text class="t" x="443.7" y="233.4" font-size="3.5" fill="#3c3c3c" text-anchor="middle">10<tspan dy="-1.4" font-size="2.4">3</tspan></text>
<line x1="457.1" y1="226.8" x2="457.1" y2="228.4" stroke="#444" stroke-width="0.7"/>
<text class="t" x="456.7" y="233.4" font-size="3.5" fill="#3c3c3c" text-anchor="middle">10<tspan dy="-1.4" font-size="2.4">4</tspan></text>
<text class="t" x="392.2" y="227" font-size="2.8" fill="#555" text-anchor="end">0</text>
<line x1="393.3" y1="226.8" x2="462.9" y2="226.8" stroke="#4a4a4a" stroke-width="1.2"/>
</g>
<text x="461.6" y="169.4" font-size="12.3" text-anchor="end" textLength="35.6" lengthAdjust="spacingAndGlyphs">58.2%</text>
<text x="85.6" y="247" font-size="12.3" textLength="31.5" lengthAdjust="spacingAndGlyphs">CD25</text>
<line x1="120.5" y1="242.6" x2="458.3" y2="242.6" stroke="#4a4a4a" stroke-width="1.1"/>
<path d="M460.8 242.6L456.2 240.3L457.4 242.6L456.2 244.9Z" fill="#4a4a4a"/>
<line x1="77.5" y1="63.2" x2="77.5" y2="182" stroke="#6e6e6e" stroke-width="1.2"/>
<path d="M76 63.3H79" fill="none" stroke="#666" stroke-width="0.9"/>
<text x="80.5" y="228.2" font-size="12.5" textLength="42.6" lengthAdjust="spacingAndGlyphs" transform="rotate(-90 80.5 228.2)">Counts</text>
<line x1="82.5" y1="269.3" x2="384.4" y2="269.3" stroke="#4a4a4a" stroke-width="1"/>
<line x1="390.6" y1="269.3" x2="461.2" y2="269.3" stroke="#4a4a4a" stroke-width="1"/>
<text x="194.8" y="262.6" font-size="12.5" textLength="81" lengthAdjust="spacingAndGlyphs">rhCC (ng/mL)</text>
<text x="389.3" y="262.6" font-size="12.5" textLength="79.3" lengthAdjust="spacingAndGlyphs">rhIL2 (ng/mL)</text>
<text x="121.9" y="281.3" font-size="12.3" text-anchor="middle">0</text>
<text x="201" y="281.3" font-size="12.3" text-anchor="middle">1</text>
<text x="277.6" y="281.3" font-size="12.3" text-anchor="middle">10</text>
<text x="354.2" y="281.3" font-size="12.3" text-anchor="middle">100</text>
<text x="426.2" y="281.3" font-size="12.3" text-anchor="middle">20</text>
<g>
<line x1="103" y1="297.6" x2="147.6" y2="297.6" stroke="#cfcfcf" stroke-width="0.6" stroke-dasharray="0.8 0.5"/>
<path d="M90.8 352.7 L91.4 351.4 L92 348.01 L92.6 343.31 L93.2 337.69 L93.8 328.22 L94.4 318 L95 308.62 L95.6 300.78 L96.2 295.75 L96.8 292.04 L97.4 293.73 L98 297.87 L98.6 302.2 L99.2 306.61 L99.8 311.14 L100.4 315.75 L101 320.38 L101.6 325.33 L102.2 330.35 L102.8 334.87 L103.4 338.48 L104 341.69 L104.6 344.46 L105.2 346.6 L105.8 348.16 L106.4 349.53 L107 350.68 L107.6 351.55 L108.2 352.1 L108.8 352.48 L109.4 352.69 L109.4 352.7 L90.8 352.7 Z" fill="#909090" stroke="#777" stroke-width="0.4"/>
<path d="M83.3 336.72 L84.05 346.56 L84.8 347.86 L85.55 348.16 L86.3 348.41 L87.05 348.45 L87.8 348.35 L88.55 348.33 L89.3 347.89 L90.05 346.24 L90.8 344.01 L91.55 338.83 L92.3 330.2 L93.05 320.48 L93.8 308.62 L94.55 300.93 L95.3 295.56 L96.05 292.88 L96.8 291.3 L97.55 293.01 L98.3 296.75 L99.05 300.39 L99.8 304.49 L100.55 308.57 L101.3 312.14 L102.05 314.74 L102.8 316.65 L103.55 316.58 L104.3 315.44 L105.05 315.19 L105.8 317 L106.55 318.8 L107.3 320.18 L108.05 321.32 L108.8 321.45 L109.55 322.28 L110.3 324.05 L111.05 330.62 L111.8 337.71 L112.55 343.8 L113.3 347.32 L114.05 349.77 L114.8 351.47 L115.55 352.01 L116.3 352.02 L117.05 352.04 L117.8 352.05 L118.55 352.06 L119.3 352.06 L120.05 352.07 L120.8 352.06 L121.55 352.09 L122.3 352.1 L123.05 352.09 L123.8 352.1 L124.55 352.11 L125.3 352.1 L126.05 352.13 L126.8 352.13 L127.55 352.13 L128.3 352.14 L129.05 352.16 L129.8 352.16 L130.55 352.17 L131.3 352.16 L132.05 352.16 L132.8 352.16 L133.55 352.18 L134.3 352.2 L135.05 352.19 L135.8 352.2 L136.55 352.2 L137.3 352.17 L138.05 352.18 L138.8 352.18 L139.55 352.2 L140.3 352.21 L141.05 352.19 L141.8 352.19 L142.55 352.2 L143.3 352.19 L144.05 352.19 L144.8 352.19 L145.55 352.21 L146.3 352.19 L147.05 352.21 L147.8 352.2 L148.55 352.21 L149.3 352.22 L150.05 352.19 L150.8 352.19 L151.55 352.2" fill="none" stroke="#333" stroke-width="0.75" stroke-linejoin="round"/>
<rect x="83" y="284.5" width="68.6" height="68.2" fill="none" stroke="#777" stroke-width="1"/>
<line x1="87.8" y1="352.7" x2="87.8" y2="354.3" stroke="#444" stroke-width="0.7"/>
<text class="t" x="87.4" y="359.3" font-size="3.5" fill="#3c3c3c" text-anchor="middle">10<tspan dy="-1.4" font-size="2.4">0</tspan></text>
<line x1="100.4" y1="352.7" x2="100.4" y2="354.3" stroke="#444" stroke-width="0.7"/>
<text class="t" x="100" y="359.3" font-size="3.5" fill="#3c3c3c" text-anchor="middle">10<tspan dy="-1.4" font-size="2.4">1</tspan></text>
<line x1="117.2" y1="352.7" x2="117.2" y2="354.3" stroke="#444" stroke-width="0.7"/>
<text class="t" x="116.8" y="359.3" font-size="3.5" fill="#3c3c3c" text-anchor="middle">10<tspan dy="-1.4" font-size="2.4">2</tspan></text>
<line x1="133.3" y1="352.7" x2="133.3" y2="354.3" stroke="#444" stroke-width="0.7"/>
<text class="t" x="132.9" y="359.3" font-size="3.5" fill="#3c3c3c" text-anchor="middle">10<tspan dy="-1.4" font-size="2.4">3</tspan></text>
<line x1="146.3" y1="352.7" x2="146.3" y2="354.3" stroke="#444" stroke-width="0.7"/>
<text class="t" x="145.9" y="359.3" font-size="3.5" fill="#3c3c3c" text-anchor="middle">10<tspan dy="-1.4" font-size="2.4">4</tspan></text>
<text class="t" x="81.4" y="352.9" font-size="2.8" fill="#555" text-anchor="end">0</text>
<line x1="82.5" y1="352.7" x2="152.1" y2="352.7" stroke="#4a4a4a" stroke-width="1.2"/>
</g>
<text x="147.7" y="295.9" font-size="12.3" text-anchor="end" textLength="35.4" lengthAdjust="spacingAndGlyphs">32.3%</text>
<g>
<line x1="180.3" y1="297.6" x2="224.9" y2="297.6" stroke="#cfcfcf" stroke-width="0.6" stroke-dasharray="0.8 0.5"/>
<path d="M167.1 352.7 L167.7 351.93 L168.3 350.19 L168.9 347.77 L169.5 344.93 L170.1 341.45 L170.7 336.32 L171.3 330.57 L171.9 324.68 L172.5 318.27 L173.1 311.9 L173.7 305.76 L174.3 299.83 L174.9 294.6 L175.5 297.22 L176.1 301.64 L176.7 306.66 L177.3 311.72 L177.9 316.91 L178.5 322.21 L179.1 327.28 L179.7 331.96 L180.3 336.71 L180.9 340.95 L181.5 343.94 L182.1 345.92 L182.7 347.63 L183.3 349.08 L183.9 350.29 L184.5 351.26 L185.1 352 L185.7 352.52 L185.7 352.7 L167.1 352.7 Z" fill="#909090" stroke="#777" stroke-width="0.4"/>
<path d="M160.6 352.29 L161.35 352.27 L162.1 352.21 L162.85 352.11 L163.6 351.93 L164.35 351.75 L165.1 351.53 L165.85 351.27 L166.6 350.28 L167.35 348.94 L168.1 346.88 L168.85 343.81 L169.6 338.66 L170.35 332.77 L171.1 325.71 L171.85 317.64 L172.6 309.61 L173.35 300.89 L174.1 295.31 L174.85 293.01 L175.6 295.35 L176.35 296.49 L177.1 295.16 L177.85 297.65 L178.6 302.14 L179.35 304.78 L180.1 305.26 L180.85 304.38 L181.6 303.39 L182.35 306.85 L183.1 308.45 L183.85 306.22 L184.6 305.2 L185.35 310.12 L186.1 309.02 L186.85 304.23 L187.6 309.57 L188.35 319.18 L189.1 327.68 L189.85 336.32 L190.6 344.88 L191.35 348.46 L192.1 350.8 L192.85 351.9 L193.6 352.02 L194.35 352.03 L195.1 352.01 L195.85 352.04 L196.6 352.04 L197.35 352.04 L198.1 352.06 L198.85 352.07 L199.6 352.1 L200.35 352.11 L201.1 352.09 L201.85 352.1 L202.6 352.12 L203.35 352.14 L204.1 352.1 L204.85 352.15 L205.6 352.14 L206.35 352.16 L207.1 352.14 L207.85 352.14 L208.6 352.16 L209.35 352.18 L210.1 352.17 L210.85 352.14 L211.6 352.18 L212.35 352.16 L213.1 352.17 L213.85 352.17 L214.6 352.16 L215.35 352.17 L216.1 352.18 L216.85 352.18 L217.6 352.19 L218.35 352.19 L219.1 352.18 L219.85 352.19 L220.6 352.21 L221.35 352.21 L222.1 352.2 L222.85 352.2 L223.6 352.21 L224.35 352.21 L225.1 352.22 L225.85 352.2 L226.6 352.2 L227.35 352.22 L228.1 352.22 L228.85 352.22" fill="none" stroke="#333" stroke-width="0.75" stroke-linejoin="round"/>
<rect x="160.3" y="284.5" width="68.6" height="68.2" fill="none" stroke="#777" stroke-width="1"/>
<line x1="165.1" y1="352.7" x2="165.1" y2="354.3" stroke="#444" stroke-width="0.7"/>
<text class="t" x="164.7" y="359.3" font-size="3.5" fill="#3c3c3c" text-anchor="middle">10<tspan dy="-1.4" font-size="2.4">0</tspan></text>
<line x1="177.7" y1="352.7" x2="177.7" y2="354.3" stroke="#444" stroke-width="0.7"/>
<text class="t" x="177.3" y="359.3" font-size="3.5" fill="#3c3c3c" text-anchor="middle">10<tspan dy="-1.4" font-size="2.4">1</tspan></text>
<line x1="194.5" y1="352.7" x2="194.5" y2="354.3" stroke="#444" stroke-width="0.7"/>
<text class="t" x="194.1" y="359.3" font-size="3.5" fill="#3c3c3c" text-anchor="middle">10<tspan dy="-1.4" font-size="2.4">2</tspan></text>
<line x1="210.6" y1="352.7" x2="210.6" y2="354.3" stroke="#444" stroke-width="0.7"/>
<text class="t" x="210.2" y="359.3" font-size="3.5" fill="#3c3c3c" text-anchor="middle">10<tspan dy="-1.4" font-size="2.4">3</tspan></text>
<line x1="223.6" y1="352.7" x2="223.6" y2="354.3" stroke="#444" stroke-width="0.7"/>
<text class="t" x="223.2" y="359.3" font-size="3.5" fill="#3c3c3c" text-anchor="middle">10<tspan dy="-1.4" font-size="2.4">4</tspan></text>
<text class="t" x="158.7" y="352.9" font-size="2.8" fill="#555" text-anchor="end">0</text>
<line x1="159.8" y1="352.7" x2="229.4" y2="352.7" stroke="#4a4a4a" stroke-width="1.2"/>
</g>
<text x="225.4" y="295.9" font-size="12.3" text-anchor="end" textLength="35.4" lengthAdjust="spacingAndGlyphs">45.1%</text>
<g>
<line x1="257.6" y1="297.6" x2="302.2" y2="297.6" stroke="#cfcfcf" stroke-width="0.6" stroke-dasharray="0.8 0.5"/>
<path d="M244.6 352.7 L245.2 351.91 L245.8 350.11 L246.4 347.6 L247 344.68 L247.6 341.08 L248.2 335.79 L248.8 329.85 L249.4 323.77 L250 317.15 L250.6 310.57 L251.2 304.23 L251.8 298.11 L252.4 292.71 L253 295.41 L253.6 299.98 L254.2 305.16 L254.8 310.38 L255.4 315.75 L256 321.21 L256.6 326.45 L257.2 331.29 L257.8 336.19 L258.4 340.57 L259 343.65 L259.6 345.7 L260.2 347.46 L260.8 348.96 L261.4 350.21 L262 351.21 L262.6 351.98 L263.2 352.52 L263.2 352.7 L244.6 352.7 Z" fill="#909090" stroke="#777" stroke-width="0.4"/>
<path d="M237.8 352.28 L238.55 352.28 L239.3 352.19 L240.05 352.14 L240.8 352.01 L241.55 351.85 L242.3 351.65 L243.05 351.45 L243.8 351.08 L244.55 350.39 L245.3 349.15 L246.05 347.43 L246.8 345.19 L247.55 339.07 L248.3 330.37 L249.05 322.64 L249.8 313.95 L250.55 305.45 L251.3 297.76 L252.05 294.14 L252.8 292.08 L253.55 293.95 L254.3 296.65 L255.05 299.99 L255.8 302.71 L256.55 303.8 L257.3 304.21 L258.05 303.33 L258.8 303.55 L259.55 306.43 L260.3 305.84 L261.05 303.29 L261.8 304.86 L262.55 306.19 L263.3 304.19 L264.05 304.9 L264.8 309.86 L265.55 314.42 L266.3 320.49 L267.05 329.46 L267.8 338.77 L268.55 344.97 L269.3 348.74 L270.05 350.64 L270.8 351.8 L271.55 352.2 L272.3 352.19 L273.05 352.2 L273.8 352.2 L274.55 352.2 L275.3 352.2 L276.05 352.2 L276.8 352.2 L277.55 352.21 L278.3 352.18 L279.05 352.19 L279.8 352.18 L280.55 352.19 L281.3 352.18 L282.05 352.21 L282.8 352.2 L283.55 352.2 L284.3 352.19 L285.05 352.2 L285.8 352.2 L286.55 352.2 L287.3 352.19 L288.05 352.21 L288.8 352.18 L289.55 352.21 L290.3 352.17 L291.05 352.19 L291.8 352.19 L292.55 352.21 L293.3 352.18 L294.05 352.22 L294.8 352.18 L295.55 352.22 L296.3 352.2 L297.05 352.2 L297.8 352.2 L298.55 352.22 L299.3 352.21 L300.05 352.18 L300.8 352.21 L301.55 352.2 L302.3 352.18 L303.05 352.21 L303.8 352.19 L304.55 352.2 L305.3 352.2 L306.05 352.19" fill="none" stroke="#333" stroke-width="0.75" stroke-linejoin="round"/>
<rect x="237.6" y="284.5" width="68.6" height="68.2" fill="none" stroke="#777" stroke-width="1"/>
<line x1="242.4" y1="352.7" x2="242.4" y2="354.3" stroke="#444" stroke-width="0.7"/>
<text class="t" x="242" y="359.3" font-size="3.5" fill="#3c3c3c" text-anchor="middle">10<tspan dy="-1.4" font-size="2.4">0</tspan></text>
<line x1="255" y1="352.7" x2="255" y2="354.3" stroke="#444" stroke-width="0.7"/>
<text class="t" x="254.6" y="359.3" font-size="3.5" fill="#3c3c3c" text-anchor="middle">10<tspan dy="-1.4" font-size="2.4">1</tspan></text>
<line x1="271.8" y1="352.7" x2="271.8" y2="354.3" stroke="#444" stroke-width="0.7"/>
<text class="t" x="271.4" y="359.3" font-size="3.5" fill="#3c3c3c" text-anchor="middle">10<tspan dy="-1.4" font-size="2.4">2</tspan></text>
<line x1="287.9" y1="352.7" x2="287.9" y2="354.3" stroke="#444" stroke-width="0.7"/>
<text class="t" x="287.5" y="359.3" font-size="3.5" fill="#3c3c3c" text-anchor="middle">10<tspan dy="-1.4" font-size="2.4">3</tspan></text>
<line x1="300.9" y1="352.7" x2="300.9" y2="354.3" stroke="#444" stroke-width="0.7"/>
<text class="t" x="300.5" y="359.3" font-size="3.5" fill="#3c3c3c" text-anchor="middle">10<tspan dy="-1.4" font-size="2.4">4</tspan></text>
<text class="t" x="236" y="352.9" font-size="2.8" fill="#555" text-anchor="end">0</text>
<line x1="237.1" y1="352.7" x2="306.7" y2="352.7" stroke="#4a4a4a" stroke-width="1.2"/>
</g>
<text x="300.6" y="295.9" font-size="12.3" text-anchor="end" textLength="35.4" lengthAdjust="spacingAndGlyphs">47.4%</text>
<g>
<line x1="334.8" y1="297.6" x2="379.4" y2="297.6" stroke="#cfcfcf" stroke-width="0.6" stroke-dasharray="0.8 0.5"/>
<path d="M321.8 352.7 L322.4 351.92 L323 350.16 L323.6 347.7 L324.2 344.82 L324.8 341.29 L325.4 336.1 L326 330.27 L326.6 324.3 L327.2 317.8 L327.8 311.34 L328.4 305.11 L329 299.11 L329.6 293.81 L330.2 296.46 L330.8 300.95 L331.4 306.03 L332 311.16 L332.6 316.42 L333.2 321.79 L333.8 326.93 L334.4 331.68 L335 336.49 L335.6 340.79 L336.2 343.82 L336.8 345.83 L337.4 347.56 L338 349.03 L338.6 350.26 L339.2 351.24 L339.8 351.99 L340.4 352.52 L340.4 352.7 L321.8 352.7 Z" fill="#909090" stroke="#777" stroke-width="0.4"/>
<path d="M315.6 352.31 L316.35 352.28 L317.1 352.24 L317.85 352.16 L318.6 352.06 L319.35 351.95 L320.1 351.76 L320.85 351.52 L321.6 350.89 L322.35 349.64 L323.1 347.98 L323.85 345.51 L324.6 340.19 L325.35 333.09 L326.1 324.9 L326.85 314.99 L327.6 306.33 L328.35 298.25 L329.1 295.11 L329.85 293.53 L330.6 293.85 L331.35 295.2 L332.1 296.92 L332.85 301.51 L333.6 305.95 L334.35 310.85 L335.1 315.38 L335.85 319.4 L336.6 320.9 L337.35 321.07 L338.1 321.49 L338.85 323.42 L339.6 325.03 L340.35 327.13 L341.1 328.54 L341.85 329.48 L342.6 330.46 L343.35 332.73 L344.1 335.82 L344.85 341.88 L345.6 346.01 L346.35 349.21 L347.1 350.73 L347.85 351.67 L348.6 352.16 L349.35 352.22 L350.1 352.21 L350.85 352.21 L351.6 352.2 L352.35 352.2 L353.1 352.2 L353.85 352.19 L354.6 352.22 L355.35 352.2 L356.1 352.19 L356.85 352.2 L357.6 352.22 L358.35 352.21 L359.1 352.2 L359.85 352.2 L360.6 352.21 L361.35 352.21 L362.1 352.18 L362.85 352.21 L363.6 352.2 L364.35 352.19 L365.1 352.2 L365.85 352.21 L366.6 352.22 L367.35 352.2 L368.1 352.21 L368.85 352.19 L369.6 352.21 L370.35 352.21 L371.1 352.18 L371.85 352.19 L372.6 352.21 L373.35 352.18 L374.1 352.2 L374.85 352.21 L375.6 352.18 L376.35 352.2 L377.1 352.2 L377.85 352.21 L378.6 352.19 L379.35 352.21 L380.1 352.2 L380.85 352.21 L381.6 352.21 L382.35 352.2 L383.1 352.21" fill="none" stroke="#333" stroke-width="0.75" stroke-linejoin="round"/>
<rect x="314.8" y="284.5" width="68.6" height="68.2" fill="none" stroke="#777" stroke-width="1"/>
<line x1="319.6" y1="352.7" x2="319.6" y2="354.3" stroke="#444" stroke-width="0.7"/>
<text class="t" x="319.2" y="359.3" font-size="3.5" fill="#3c3c3c" text-anchor="middle">10<tspan dy="-1.4" font-size="2.4">0</tspan></text>
<line x1="332.2" y1="352.7" x2="332.2" y2="354.3" stroke="#444" stroke-width="0.7"/>
<text class="t" x="331.8" y="359.3" font-size="3.5" fill="#3c3c3c" text-anchor="middle">10<tspan dy="-1.4" font-size="2.4">1</tspan></text>
<line x1="349" y1="352.7" x2="349" y2="354.3" stroke="#444" stroke-width="0.7"/>
<text class="t" x="348.6" y="359.3" font-size="3.5" fill="#3c3c3c" text-anchor="middle">10<tspan dy="-1.4" font-size="2.4">2</tspan></text>
<line x1="365.1" y1="352.7" x2="365.1" y2="354.3" stroke="#444" stroke-width="0.7"/>
<text class="t" x="364.7" y="359.3" font-size="3.5" fill="#3c3c3c" text-anchor="middle">10<tspan dy="-1.4" font-size="2.4">3</tspan></text>
<line x1="378.1" y1="352.7" x2="378.1" y2="354.3" stroke="#444" stroke-width="0.7"/>
<text class="t" x="377.7" y="359.3" font-size="3.5" fill="#3c3c3c" text-anchor="middle">10<tspan dy="-1.4" font-size="2.4">4</tspan></text>
<text class="t" x="313.2" y="352.9" font-size="2.8" fill="#555" text-anchor="end">0</text>
<line x1="314.3" y1="352.7" x2="383.9" y2="352.7" stroke="#4a4a4a" stroke-width="1.2"/>
</g>
<text x="377" y="295.9" font-size="12.3" text-anchor="end" textLength="35.4" lengthAdjust="spacingAndGlyphs">36.4%</text>
<g>
<line x1="411.8" y1="297.6" x2="456.4" y2="297.6" stroke="#cfcfcf" stroke-width="0.6" stroke-dasharray="0.8 0.5"/>
<path d="M398.4 352.7 L399 351.91 L399.6 350.11 L400.2 347.6 L400.8 344.68 L401.4 341.08 L402 335.79 L402.6 329.85 L403.2 323.77 L403.8 317.15 L404.4 310.57 L405 304.23 L405.6 298.11 L406.2 292.71 L406.8 295.42 L407.4 299.98 L408 305.16 L408.6 310.38 L409.2 315.75 L409.8 321.21 L410.4 326.45 L411 331.29 L411.6 336.19 L412.2 340.57 L412.8 343.66 L413.4 345.7 L414 347.46 L414.6 348.96 L415.2 350.21 L415.8 351.21 L416.4 351.98 L417 352.52 L417 352.7 L398.4 352.7 Z" fill="#909090" stroke="#777" stroke-width="0.4"/>
<path d="M392.6 352.29 L393.35 352.27 L394.1 352.23 L394.85 352.16 L395.6 352.07 L396.35 351.89 L397.1 351.75 L397.85 351.51 L398.6 350.84 L399.35 349.78 L400.1 347.99 L400.85 345.68 L401.6 340.18 L402.35 332.58 L403.1 325.31 L403.85 318.36 L404.6 310.8 L405.35 305.47 L406.1 301.88 L406.85 297.99 L407.6 296.24 L408.35 296.71 L409.1 297.23 L409.85 296.96 L410.6 296.65 L411.35 296.94 L412.1 298.91 L412.85 299.28 L413.6 298.72 L414.35 300.32 L415.1 301.77 L415.85 299.04 L416.6 297.48 L417.35 300.41 L418.1 301.53 L418.85 304.54 L419.6 313.71 L420.35 324.4 L421.1 334.82 L421.85 341.78 L422.6 347.61 L423.35 349.75 L424.1 351.41 L424.85 352.14 L425.6 352.18 L426.35 352.19 L427.1 352.21 L427.85 352.22 L428.6 352.21 L429.35 352.19 L430.1 352.2 L430.85 352.22 L431.6 352.19 L432.35 352.2 L433.1 352.19 L433.85 352.19 L434.6 352.21 L435.35 352.21 L436.1 352.2 L436.85 352.21 L437.6 352.21 L438.35 352.22 L439.1 352.2 L439.85 352.2 L440.6 352.19 L441.35 352.21 L442.1 352.19 L442.85 352.18 L443.6 352.2 L444.35 352.2 L445.1 352.21 L445.85 352.21 L446.6 352.19 L447.35 352.19 L448.1 352.2 L448.85 352.19 L449.6 352.2 L450.35 352.2 L451.1 352.2 L451.85 352.18 L452.6 352.19 L453.35 352.21 L454.1 352.19 L454.85 352.21 L455.6 352.21 L456.35 352.2 L457.1 352.19 L457.85 352.2 L458.6 352.19 L459.35 352.2 L460.1 352.2" fill="none" stroke="#333" stroke-width="0.75" stroke-linejoin="round"/>
<rect x="391.8" y="284.5" width="68.6" height="68.2" fill="none" stroke="#777" stroke-width="1"/>
<line x1="396.6" y1="352.7" x2="396.6" y2="354.3" stroke="#444" stroke-width="0.7"/>
<text class="t" x="396.2" y="359.3" font-size="3.5" fill="#3c3c3c" text-anchor="middle">10<tspan dy="-1.4" font-size="2.4">0</tspan></text>
<line x1="409.2" y1="352.7" x2="409.2" y2="354.3" stroke="#444" stroke-width="0.7"/>
<text class="t" x="408.8" y="359.3" font-size="3.5" fill="#3c3c3c" text-anchor="middle">10<tspan dy="-1.4" font-size="2.4">1</tspan></text>
<line x1="426" y1="352.7" x2="426" y2="354.3" stroke="#444" stroke-width="0.7"/>
<text class="t" x="425.6" y="359.3" font-size="3.5" fill="#3c3c3c" text-anchor="middle">10<tspan dy="-1.4" font-size="2.4">2</tspan></text>
<line x1="442.1" y1="352.7" x2="442.1" y2="354.3" stroke="#444" stroke-width="0.7"/>
<text class="t" x="441.7" y="359.3" font-size="3.5" fill="#3c3c3c" text-anchor="middle">10<tspan dy="-1.4" font-size="2.4">3</tspan></text>
<line x1="455.1" y1="352.7" x2="455.1" y2="354.3" stroke="#444" stroke-width="0.7"/>
<text class="t" x="454.7" y="359.3" font-size="3.5" fill="#3c3c3c" text-anchor="middle">10<tspan dy="-1.4" font-size="2.4">4</tspan></text>
<text class="t" x="390.2" y="352.9" font-size="2.8" fill="#555" text-anchor="end">0</text>
<line x1="391.3" y1="352.7" x2="460.9" y2="352.7" stroke="#4a4a4a" stroke-width="1.2"/>
</g>
<text x="455.3" y="295.9" font-size="12.3" text-anchor="end" textLength="35.4" lengthAdjust="spacingAndGlyphs">48.2%</text>
<text x="89.3" y="372.6" font-size="12.3" textLength="30.8" lengthAdjust="spacingAndGlyphs">TNFα</text>
<line x1="122.5" y1="368.6" x2="460.2" y2="368.6" stroke="#4a4a4a" stroke-width="1.1"/>
<path d="M462.7 368.6L458.1 366.3L459.3 368.6L458.1 370.9Z" fill="#4a4a4a"/>
<g>
<line x1="101.5" y1="409.1" x2="148.6" y2="409.1" stroke="#cfcfcf" stroke-width="0.6" stroke-dasharray="0.8 0.5"/>
<path d="M88.7 448.7 L89.3 448.29 L89.9 447.14 L90.5 445.4 L91.1 443.19 L91.7 440.48 L92.3 435.39 L92.9 428.36 L93.5 418.58 L94.1 406.96 L94.7 396.39 L95.3 388.42 L95.9 388.41 L96.5 397.2 L97.1 408.91 L97.7 421.94 L98.3 430.96 L98.9 437.53 L99.5 441.54 L100.1 443.59 L100.7 445.18 L101.3 446.4 L101.9 447.35 L102.5 448.14 L103.1 448.7 L103.1 448.7 L88.7 448.7 Z" fill="#909090" stroke="#777" stroke-width="0.4"/>
<path d="M83.3 443.63 L84.05 445.67 L84.8 446.92 L85.55 446.93 L86.3 446.84 L87.05 446.59 L87.8 446.21 L88.55 445.87 L89.3 444.94 L90.05 442.77 L90.8 439.63 L91.55 435.97 L92.3 429.72 L93.05 421.23 L93.8 408.58 L94.55 396.94 L95.3 387.62 L96.05 388.51 L96.8 398.98 L97.55 409.83 L98.3 420.95 L99.05 426.57 L99.8 429.86 L100.55 431.9 L101.3 433.44 L102.05 434.17 L102.8 434.71 L103.55 434.51 L104.3 434.95 L105.05 433.26 L105.8 432.96 L106.55 433.02 L107.3 432.97 L108.05 433.32 L108.8 433.28 L109.55 435.14 L110.3 435.75 L111.05 438.18 L111.8 440.71 L112.55 443.21 L113.3 445.32 L114.05 446.65 L114.8 447.4 L115.55 447.98 L116.3 448.34 L117.05 448.4 L117.8 448.4 L118.55 448.4 L119.3 448.41 L120.05 448.4 L120.8 448.41 L121.55 448.39 L122.3 448.39 L123.05 448.4 L123.8 448.4 L124.55 448.42 L125.3 448.41 L126.05 448.39 L126.8 448.39 L127.55 448.39 L128.3 448.4 L129.05 448.4 L129.8 448.39 L130.55 448.38 L131.3 448.38 L132.05 448.37 L132.8 448.37 L133.55 448.38 L134.3 448.38 L135.05 448.36 L135.8 448.37 L136.55 448.37 L137.3 448.36 L138.05 448.35 L138.8 448.35 L139.55 448.35 L140.3 448.34 L141.05 448.33 L141.8 448.32 L142.55 448.32 L143.3 448.31 L144.05 448.32 L144.8 448.3 L145.55 448.3 L146.3 448.3 L147.05 448.28 L147.8 448.27 L148.55 448.25 L149.3 448.24 L150.05 448.25 L150.8 448.21 L151.55 448.19" fill="none" stroke="#333" stroke-width="0.75" stroke-linejoin="round"/>
<rect x="83" y="381.6" width="68.6" height="67.1" fill="none" stroke="#777" stroke-width="1"/>
<line x1="87.8" y1="448.7" x2="87.8" y2="450.3" stroke="#444" stroke-width="0.7"/>
<text class="t" x="87.4" y="455.3" font-size="3.5" fill="#3c3c3c" text-anchor="middle">10<tspan dy="-1.4" font-size="2.4">0</tspan></text>
<line x1="100.4" y1="448.7" x2="100.4" y2="450.3" stroke="#444" stroke-width="0.7"/>
<text class="t" x="100" y="455.3" font-size="3.5" fill="#3c3c3c" text-anchor="middle">10<tspan dy="-1.4" font-size="2.4">1</tspan></text>
<line x1="117.2" y1="448.7" x2="117.2" y2="450.3" stroke="#444" stroke-width="0.7"/>
<text class="t" x="116.8" y="455.3" font-size="3.5" fill="#3c3c3c" text-anchor="middle">10<tspan dy="-1.4" font-size="2.4">2</tspan></text>
<line x1="133.3" y1="448.7" x2="133.3" y2="450.3" stroke="#444" stroke-width="0.7"/>
<text class="t" x="132.9" y="455.3" font-size="3.5" fill="#3c3c3c" text-anchor="middle">10<tspan dy="-1.4" font-size="2.4">3</tspan></text>
<line x1="146.3" y1="448.7" x2="146.3" y2="450.3" stroke="#444" stroke-width="0.7"/>
<text class="t" x="145.9" y="455.3" font-size="3.5" fill="#3c3c3c" text-anchor="middle">10<tspan dy="-1.4" font-size="2.4">4</tspan></text>
<text class="t" x="81.4" y="448.9" font-size="2.8" fill="#555" text-anchor="end">0</text>
<line x1="82.5" y1="448.7" x2="152.1" y2="448.7" stroke="#4a4a4a" stroke-width="1.2"/>
</g>
<text x="145.4" y="394.4" font-size="12.3" text-anchor="end" textLength="35.4" lengthAdjust="spacingAndGlyphs">31.8%</text>
<g>
<line x1="178.8" y1="409.1" x2="225.9" y2="409.1" stroke="#cfcfcf" stroke-width="0.6" stroke-dasharray="0.8 0.5"/>
<path d="M166 448.7 L166.6 448.29 L167.2 447.15 L167.8 445.42 L168.4 443.22 L169 440.52 L169.6 435.46 L170.2 428.45 L170.8 418.72 L171.4 407.16 L172 396.64 L172.6 388.71 L173.2 388.7 L173.8 397.45 L174.4 409.1 L175 422.07 L175.6 431.05 L176.2 437.58 L176.8 441.57 L177.4 443.62 L178 445.2 L178.6 446.41 L179.2 447.36 L179.8 448.14 L180.4 448.7 L180.4 448.7 L166 448.7 Z" fill="#909090" stroke="#777" stroke-width="0.4"/>
<path d="M160.6 447.48 L161.35 447.48 L162.1 447.4 L162.85 447.28 L163.6 447.04 L164.35 446.72 L165.1 446.48 L165.85 446.14 L166.6 445.21 L167.35 443.18 L168.1 440.51 L168.85 436.63 L169.6 429.93 L170.35 421.73 L171.1 410.81 L171.85 400.76 L172.6 390.6 L173.35 387.96 L174.1 394.43 L174.85 404.61 L175.6 416.73 L176.35 423.99 L177.1 428.77 L177.85 428.75 L178.6 429.01 L179.35 429.37 L180.1 429.17 L180.85 427.89 L181.6 426.36 L182.35 425.81 L183.1 425.36 L183.85 425.37 L184.6 423.92 L185.35 422.32 L186.1 421.99 L186.85 424.52 L187.6 428.63 L188.35 434.29 L189.1 438.92 L189.85 441.87 L190.6 444.21 L191.35 446.18 L192.1 447.11 L192.85 447.57 L193.6 447.89 L194.35 448.17 L195.1 448.33 L195.85 448.39 L196.6 448.4 L197.35 448.4 L198.1 448.39 L198.85 448.4 L199.6 448.4 L200.35 448.39 L201.1 448.4 L201.85 448.39 L202.6 448.4 L203.35 448.41 L204.1 448.39 L204.85 448.4 L205.6 448.4 L206.35 448.39 L207.1 448.39 L207.85 448.38 L208.6 448.39 L209.35 448.39 L210.1 448.39 L210.85 448.37 L211.6 448.39 L212.35 448.37 L213.1 448.38 L213.85 448.36 L214.6 448.35 L215.35 448.36 L216.1 448.35 L216.85 448.35 L217.6 448.35 L218.35 448.35 L219.1 448.33 L219.85 448.32 L220.6 448.31 L221.35 448.31 L222.1 448.31 L222.85 448.29 L223.6 448.28 L224.35 448.27 L225.1 448.26 L225.85 448.26 L226.6 448.21 L227.35 448.23 L228.1 448.21 L228.85 448.18" fill="none" stroke="#333" stroke-width="0.75" stroke-linejoin="round"/>
<rect x="160.3" y="381.6" width="68.6" height="67.1" fill="none" stroke="#777" stroke-width="1"/>
<line x1="165.1" y1="448.7" x2="165.1" y2="450.3" stroke="#444" stroke-width="0.7"/>
<text class="t" x="164.7" y="455.3" font-size="3.5" fill="#3c3c3c" text-anchor="middle">10<tspan dy="-1.4" font-size="2.4">0</tspan></text>
<line x1="177.7" y1="448.7" x2="177.7" y2="450.3" stroke="#444" stroke-width="0.7"/>
<text class="t" x="177.3" y="455.3" font-size="3.5" fill="#3c3c3c" text-anchor="middle">10<tspan dy="-1.4" font-size="2.4">1</tspan></text>
<line x1="194.5" y1="448.7" x2="194.5" y2="450.3" stroke="#444" stroke-width="0.7"/>
<text class="t" x="194.1" y="455.3" font-size="3.5" fill="#3c3c3c" text-anchor="middle">10<tspan dy="-1.4" font-size="2.4">2</tspan></text>
<line x1="210.6" y1="448.7" x2="210.6" y2="450.3" stroke="#444" stroke-width="0.7"/>
<text class="t" x="210.2" y="455.3" font-size="3.5" fill="#3c3c3c" text-anchor="middle">10<tspan dy="-1.4" font-size="2.4">3</tspan></text>
<line x1="223.6" y1="448.7" x2="223.6" y2="450.3" stroke="#444" stroke-width="0.7"/>
<text class="t" x="223.2" y="455.3" font-size="3.5" fill="#3c3c3c" text-anchor="middle">10<tspan dy="-1.4" font-size="2.4">4</tspan></text>
<text class="t" x="158.7" y="448.9" font-size="2.8" fill="#555" text-anchor="end">0</text>
<line x1="159.8" y1="448.7" x2="229.4" y2="448.7" stroke="#4a4a4a" stroke-width="1.2"/>
</g>
<text x="221.9" y="394.4" font-size="12.3" text-anchor="end" textLength="35.4" lengthAdjust="spacingAndGlyphs">43.0%</text>
<g>
<line x1="256.1" y1="409.1" x2="303.2" y2="409.1" stroke="#cfcfcf" stroke-width="0.6" stroke-dasharray="0.8 0.5"/>
<path d="M243 448.7 L243.6 448.29 L244.2 447.15 L244.8 445.42 L245.4 443.22 L246 440.52 L246.6 435.46 L247.2 428.45 L247.8 418.72 L248.4 407.16 L249 396.64 L249.6 388.71 L250.2 388.7 L250.8 397.45 L251.4 409.1 L252 422.07 L252.6 431.05 L253.2 437.58 L253.8 441.57 L254.4 443.62 L255 445.2 L255.6 446.41 L256.2 447.36 L256.8 448.14 L257.4 448.7 L257.4 448.7 L243 448.7 Z" fill="#909090" stroke="#777" stroke-width="0.4"/>
<path d="M237.9 447.51 L238.65 447.47 L239.4 447.38 L240.15 447.17 L240.9 447.06 L241.65 446.7 L242.4 446.32 L243.15 445.97 L243.9 444.57 L244.65 442.26 L245.4 439.31 L246.15 433.43 L246.9 427.44 L247.65 417.78 L248.4 406.64 L249.15 396.9 L249.9 388.3 L250.65 389.76 L251.4 398.79 L252.15 408.78 L252.9 417.88 L253.65 422.5 L254.4 425.26 L255.15 424.7 L255.9 423.64 L256.65 423.52 L257.4 422.13 L258.15 421.59 L258.9 421.34 L259.65 421.61 L260.4 422.18 L261.15 422.35 L261.9 421.74 L262.65 417.9 L263.4 417.35 L264.15 418.93 L264.9 422.41 L265.65 426.33 L266.4 429.9 L267.15 434.75 L267.9 438.3 L268.65 440.98 L269.4 443.52 L270.15 445.5 L270.9 446.62 L271.65 447.11 L272.4 447.57 L273.15 447.98 L273.9 448.21 L274.65 448.36 L275.4 448.4 L276.15 448.4 L276.9 448.4 L277.65 448.4 L278.4 448.41 L279.15 448.39 L279.9 448.38 L280.65 448.4 L281.4 448.4 L282.15 448.41 L282.9 448.4 L283.65 448.39 L284.4 448.39 L285.15 448.39 L285.9 448.39 L286.65 448.38 L287.4 448.38 L288.15 448.39 L288.9 448.38 L289.65 448.38 L290.4 448.38 L291.15 448.39 L291.9 448.37 L292.65 448.36 L293.4 448.37 L294.15 448.34 L294.9 448.35 L295.65 448.34 L296.4 448.33 L297.15 448.33 L297.9 448.33 L298.65 448.31 L299.4 448.31 L300.15 448.3 L300.9 448.27 L301.65 448.28 L302.4 448.26 L303.15 448.24 L303.9 448.23 L304.65 448.22 L305.4 448.22 L306.15 448.19" fill="none" stroke="#333" stroke-width="0.75" stroke-linejoin="round"/>
<rect x="237.6" y="381.6" width="68.6" height="67.1" fill="none" stroke="#777" stroke-width="1"/>
<line x1="242.4" y1="448.7" x2="242.4" y2="450.3" stroke="#444" stroke-width="0.7"/>
<text class="t" x="242" y="455.3" font-size="3.5" fill="#3c3c3c" text-anchor="middle">10<tspan dy="-1.4" font-size="2.4">0</tspan></text>
<line x1="255" y1="448.7" x2="255" y2="450.3" stroke="#444" stroke-width="0.7"/>
<text class="t" x="254.6" y="455.3" font-size="3.5" fill="#3c3c3c" text-anchor="middle">10<tspan dy="-1.4" font-size="2.4">1</tspan></text>
<line x1="271.8" y1="448.7" x2="271.8" y2="450.3" stroke="#444" stroke-width="0.7"/>
<text class="t" x="271.4" y="455.3" font-size="3.5" fill="#3c3c3c" text-anchor="middle">10<tspan dy="-1.4" font-size="2.4">2</tspan></text>
<line x1="287.9" y1="448.7" x2="287.9" y2="450.3" stroke="#444" stroke-width="0.7"/>
<text class="t" x="287.5" y="455.3" font-size="3.5" fill="#3c3c3c" text-anchor="middle">10<tspan dy="-1.4" font-size="2.4">3</tspan></text>
<line x1="300.9" y1="448.7" x2="300.9" y2="450.3" stroke="#444" stroke-width="0.7"/>
<text class="t" x="300.5" y="455.3" font-size="3.5" fill="#3c3c3c" text-anchor="middle">10<tspan dy="-1.4" font-size="2.4">4</tspan></text>
<text class="t" x="236" y="448.9" font-size="2.8" fill="#555" text-anchor="end">0</text>
<line x1="237.1" y1="448.7" x2="306.7" y2="448.7" stroke="#4a4a4a" stroke-width="1.2"/>
</g>
<text x="301" y="394.4" font-size="12.3" text-anchor="end" textLength="35.4" lengthAdjust="spacingAndGlyphs">43.6%</text>
<g>
<line x1="333.3" y1="409.1" x2="380.4" y2="409.1" stroke="#cfcfcf" stroke-width="0.6" stroke-dasharray="0.8 0.5"/>
<path d="M320.1 448.7 L320.7 448.29 L321.3 447.15 L321.9 445.42 L322.5 443.22 L323.1 440.52 L323.7 435.46 L324.3 428.45 L324.9 418.72 L325.5 407.16 L326.1 396.64 L326.7 388.71 L327.3 388.7 L327.9 397.45 L328.5 409.1 L329.1 422.07 L329.7 431.05 L330.3 437.58 L330.9 441.57 L331.5 443.62 L332.1 445.2 L332.7 446.41 L333.3 447.36 L333.9 448.14 L334.5 448.7 L334.5 448.7 L320.1 448.7 Z" fill="#909090" stroke="#777" stroke-width="0.4"/>
<path d="M315.1 447.54 L315.85 447.47 L316.6 447.35 L317.35 447.19 L318.1 446.99 L318.85 446.61 L319.6 446.23 L320.35 445.83 L321.1 444.57 L321.85 442.17 L322.6 439.08 L323.35 433.9 L324.1 426.48 L324.85 417.84 L325.6 406.19 L326.35 396.46 L327.1 388.01 L327.85 390.48 L328.6 399.84 L329.35 412.26 L330.1 423.22 L330.85 430.56 L331.6 434.05 L332.35 434.69 L333.1 435.72 L333.85 436.4 L334.6 436.51 L335.35 436.24 L336.1 436.37 L336.85 435.97 L337.6 436 L338.35 435.58 L339.1 435.56 L339.85 435.77 L340.6 435.3 L341.35 436.1 L342.1 437.78 L342.85 440.42 L343.6 442.46 L344.35 444.4 L345.1 446.01 L345.85 447.12 L346.6 447.53 L347.35 447.93 L348.1 448.19 L348.85 448.34 L349.6 448.4 L350.35 448.4 L351.1 448.41 L351.85 448.4 L352.6 448.4 L353.35 448.4 L354.1 448.38 L354.85 448.39 L355.6 448.4 L356.35 448.4 L357.1 448.4 L357.85 448.4 L358.6 448.39 L359.35 448.4 L360.1 448.39 L360.85 448.39 L361.6 448.39 L362.35 448.39 L363.1 448.38 L363.85 448.38 L364.6 448.37 L365.35 448.39 L366.1 448.37 L366.85 448.37 L367.6 448.36 L368.35 448.36 L369.1 448.36 L369.85 448.36 L370.6 448.35 L371.35 448.35 L372.1 448.34 L372.85 448.33 L373.6 448.34 L374.35 448.32 L375.1 448.32 L375.85 448.29 L376.6 448.3 L377.35 448.29 L378.1 448.29 L378.85 448.25 L379.6 448.26 L380.35 448.25 L381.1 448.24 L381.85 448.22 L382.6 448.22 L383.35 448.21" fill="none" stroke="#333" stroke-width="0.75" stroke-linejoin="round"/>
<rect x="314.8" y="381.6" width="68.6" height="67.1" fill="none" stroke="#777" stroke-width="1"/>
<line x1="319.6" y1="448.7" x2="319.6" y2="450.3" stroke="#444" stroke-width="0.7"/>
<text class="t" x="319.2" y="455.3" font-size="3.5" fill="#3c3c3c" text-anchor="middle">10<tspan dy="-1.4" font-size="2.4">0</tspan></text>
<line x1="332.2" y1="448.7" x2="332.2" y2="450.3" stroke="#444" stroke-width="0.7"/>
<text class="t" x="331.8" y="455.3" font-size="3.5" fill="#3c3c3c" text-anchor="middle">10<tspan dy="-1.4" font-size="2.4">1</tspan></text>
<line x1="349" y1="448.7" x2="349" y2="450.3" stroke="#444" stroke-width="0.7"/>
<text class="t" x="348.6" y="455.3" font-size="3.5" fill="#3c3c3c" text-anchor="middle">10<tspan dy="-1.4" font-size="2.4">2</tspan></text>
<line x1="365.1" y1="448.7" x2="365.1" y2="450.3" stroke="#444" stroke-width="0.7"/>
<text class="t" x="364.7" y="455.3" font-size="3.5" fill="#3c3c3c" text-anchor="middle">10<tspan dy="-1.4" font-size="2.4">3</tspan></text>
<line x1="378.1" y1="448.7" x2="378.1" y2="450.3" stroke="#444" stroke-width="0.7"/>
<text class="t" x="377.7" y="455.3" font-size="3.5" fill="#3c3c3c" text-anchor="middle">10<tspan dy="-1.4" font-size="2.4">4</tspan></text>
<text class="t" x="313.2" y="448.9" font-size="2.8" fill="#555" text-anchor="end">0</text>
<line x1="314.3" y1="448.7" x2="383.9" y2="448.7" stroke="#4a4a4a" stroke-width="1.2"/>
</g>
<text x="378" y="394.4" font-size="12.3" text-anchor="end" textLength="35.4" lengthAdjust="spacingAndGlyphs">27.2%</text>
<g>
<line x1="410.3" y1="409.1" x2="457.4" y2="409.1" stroke="#cfcfcf" stroke-width="0.6" stroke-dasharray="0.8 0.5"/>
<path d="M397.4 448.7 L398 448.29 L398.6 447.15 L399.2 445.42 L399.8 443.22 L400.4 440.52 L401 435.46 L401.6 428.45 L402.2 418.72 L402.8 407.16 L403.4 396.64 L404 388.71 L404.6 388.7 L405.2 397.45 L405.8 409.1 L406.4 422.07 L407 431.05 L407.6 437.58 L408.2 441.57 L408.8 443.62 L409.4 445.2 L410 446.41 L410.6 447.36 L411.2 448.14 L411.8 448.7 L411.8 448.7 L397.4 448.7 Z" fill="#909090" stroke="#777" stroke-width="0.4"/>
<path d="M392.1 447.5 L392.85 447.46 L393.6 447.37 L394.35 447.21 L395.1 447.01 L395.85 446.7 L396.6 446.28 L397.35 446.04 L398.1 444.59 L398.85 442.44 L399.6 439.33 L400.35 435.32 L401.1 429.34 L401.85 422.15 L402.6 410.71 L403.35 400.61 L404.1 391.86 L404.85 389.08 L405.6 395.34 L406.35 403.85 L407.1 412.88 L407.85 418.95 L408.6 422.8 L409.35 424.84 L410.1 426.85 L410.85 426.82 L411.6 425.03 L412.35 422.33 L413.1 421.13 L413.85 421.12 L414.6 421.06 L415.35 420.92 L416.1 420.17 L416.85 418.73 L417.6 417.31 L418.35 416.59 L419.1 419.39 L419.85 422.56 L420.6 426.23 L421.35 431.23 L422.1 436.75 L422.85 439.99 L423.6 443.19 L424.35 445.32 L425.1 446.53 L425.85 447.23 L426.6 447.7 L427.35 448.08 L428.1 448.32 L428.85 448.4 L429.6 448.4 L430.35 448.4 L431.1 448.4 L431.85 448.39 L432.6 448.39 L433.35 448.39 L434.1 448.4 L434.85 448.4 L435.6 448.41 L436.35 448.39 L437.1 448.4 L437.85 448.39 L438.6 448.39 L439.35 448.39 L440.1 448.39 L440.85 448.39 L441.6 448.38 L442.35 448.39 L443.1 448.39 L443.85 448.39 L444.6 448.37 L445.35 448.36 L446.1 448.36 L446.85 448.36 L447.6 448.36 L448.35 448.35 L449.1 448.35 L449.85 448.33 L450.6 448.33 L451.35 448.33 L452.1 448.33 L452.85 448.31 L453.6 448.31 L454.35 448.28 L455.1 448.27 L455.85 448.27 L456.6 448.26 L457.35 448.26 L458.1 448.25 L458.85 448.21 L459.6 448.22 L460.35 448.19" fill="none" stroke="#333" stroke-width="0.75" stroke-linejoin="round"/>
<rect x="391.8" y="381.6" width="68.6" height="67.1" fill="none" stroke="#777" stroke-width="1"/>
<line x1="396.6" y1="448.7" x2="396.6" y2="450.3" stroke="#444" stroke-width="0.7"/>
<text class="t" x="396.2" y="455.3" font-size="3.5" fill="#3c3c3c" text-anchor="middle">10<tspan dy="-1.4" font-size="2.4">0</tspan></text>
<line x1="409.2" y1="448.7" x2="409.2" y2="450.3" stroke="#444" stroke-width="0.7"/>
<text class="t" x="408.8" y="455.3" font-size="3.5" fill="#3c3c3c" text-anchor="middle">10<tspan dy="-1.4" font-size="2.4">1</tspan></text>
<line x1="426" y1="448.7" x2="426" y2="450.3" stroke="#444" stroke-width="0.7"/>
<text class="t" x="425.6" y="455.3" font-size="3.5" fill="#3c3c3c" text-anchor="middle">10<tspan dy="-1.4" font-size="2.4">2</tspan></text>
<line x1="442.1" y1="448.7" x2="442.1" y2="450.3" stroke="#444" stroke-width="0.7"/>
<text class="t" x="441.7" y="455.3" font-size="3.5" fill="#3c3c3c" text-anchor="middle">10<tspan dy="-1.4" font-size="2.4">3</tspan></text>
<line x1="455.1" y1="448.7" x2="455.1" y2="450.3" stroke="#444" stroke-width="0.7"/>
<text class="t" x="454.7" y="455.3" font-size="3.5" fill="#3c3c3c" text-anchor="middle">10<tspan dy="-1.4" font-size="2.4">4</tspan></text>
<text class="t" x="390.2" y="448.9" font-size="2.8" fill="#555" text-anchor="end">0</text>
<line x1="391.3" y1="448.7" x2="460.9" y2="448.7" stroke="#4a4a4a" stroke-width="1.2"/>
</g>
<text x="453.4" y="394.4" font-size="12.3" text-anchor="end" textLength="35.4" lengthAdjust="spacingAndGlyphs">46.8%</text>
<text x="76.8" y="471.6" font-size="12.3" textLength="73" lengthAdjust="spacingAndGlyphs">Granzyme B</text>
<line x1="153" y1="467.1" x2="460.2" y2="467.1" stroke="#4a4a4a" stroke-width="1.1"/>
<path d="M462.7 467.1L458.1 464.8L459.3 467.1L458.1 469.4Z" fill="#4a4a4a"/>
<g>
<line x1="99.5" y1="496.8" x2="151.1" y2="496.8" stroke="#cfcfcf" stroke-width="0.6" stroke-dasharray="0.8 0.5"/>
<path d="M83.3 544.3 L83.9 539.42 L84.5 534.28 L85.1 528.88 L85.7 523.09 L86.3 517.06 L86.9 511.1 L87.5 505.11 L88.1 499.17 L88.7 493.8 L89.3 489.14 L89.9 485.15 L90.5 487 L91.1 495.05 L91.7 503.54 L92.3 510.89 L92.9 517.35 L93.5 522.91 L94.1 527.89 L94.7 531.3 L95.3 533.38 L95.9 535.02 L96.5 536.26 L97.1 537.12 L97.7 537.62 L98.3 538.02 L98.9 538.64 L99.5 539.91 L100.1 541.58 L100.7 543.12 L101.3 544.16 L101.9 545.07 L102.5 545.83 L103.1 546.4 L103.1 546.5 L83.3 546.5 Z" fill="#909090" stroke="#777" stroke-width="0.4"/>
<path d="M83.6 545.73 L84.35 545.47 L85.1 544.81 L85.85 543.82 L86.6 542.6 L87.35 540.11 L88.1 536.1 L88.85 531.91 L89.6 525.76 L90.35 518.93 L91.1 511.35 L91.85 503.83 L92.6 496.56 L93.35 491.22 L94.1 487.52 L94.85 486.2 L95.6 486.02 L96.35 487.1 L97.1 488.85 L97.85 493.64 L98.6 499.92 L99.35 506.43 L100.1 512.39 L100.85 518.23 L101.6 520.93 L102.35 521.4 L103.1 524.78 L103.85 530.14 L104.6 533.24 L105.35 535.78 L106.1 537.14 L106.85 538.25 L107.6 539.45 L108.35 540.35 L109.1 540.82 L109.85 541.77 L110.6 542.34 L111.35 542.73 L112.1 543.15 L112.85 543.67 L113.6 544.15 L114.35 544.64 L115.1 544.98 L115.85 545.44 L116.6 545.69 L117.35 545.78 L118.1 545.8 L118.85 545.86 L119.6 545.9 L120.35 545.93 L121.1 545.95 L121.85 545.95 L122.6 545.95 L123.35 545.99 L124.1 546 L124.85 545.99 L125.6 546.01 L126.35 546.01 L127.1 546.01 L127.85 546.01 L128.6 546.03 L129.35 546.02 L130.1 546.05 L130.85 546.03 L131.6 546.05 L132.35 546.04 L133.1 546.06 L133.85 546.05 L134.6 546.06 L135.35 546.06 L136.1 546.05 L136.85 546.07 L137.6 546.07 L138.35 546.06 L139.1 546.07 L139.85 546.07 L140.6 546.08 L141.35 546.08 L142.1 546.09 L142.85 546.11 L143.6 546.09 L144.35 546.1 L145.1 546.1 L145.85 546.09 L146.6 546.09 L147.35 546.1 L148.1 546.11 L148.85 546.07 L149.6 546.1 L150.35 546.1 L151.1 546.09" fill="none" stroke="#333" stroke-width="0.75" stroke-linejoin="round"/>
<rect x="83" y="478.7" width="68.6" height="67.8" fill="none" stroke="#777" stroke-width="1"/>
<line x1="87.8" y1="546.5" x2="87.8" y2="548.1" stroke="#444" stroke-width="0.7"/>
<text class="t" x="87.4" y="553.1" font-size="3.5" fill="#3c3c3c" text-anchor="middle">10<tspan dy="-1.4" font-size="2.4">0</tspan></text>
<line x1="100.4" y1="546.5" x2="100.4" y2="548.1" stroke="#444" stroke-width="0.7"/>
<text class="t" x="100" y="553.1" font-size="3.5" fill="#3c3c3c" text-anchor="middle">10<tspan dy="-1.4" font-size="2.4">1</tspan></text>
<line x1="117.2" y1="546.5" x2="117.2" y2="548.1" stroke="#444" stroke-width="0.7"/>
<text class="t" x="116.8" y="553.1" font-size="3.5" fill="#3c3c3c" text-anchor="middle">10<tspan dy="-1.4" font-size="2.4">2</tspan></text>
<line x1="133.3" y1="546.5" x2="133.3" y2="548.1" stroke="#444" stroke-width="0.7"/>
<text class="t" x="132.9" y="553.1" font-size="3.5" fill="#3c3c3c" text-anchor="middle">10<tspan dy="-1.4" font-size="2.4">3</tspan></text>
<line x1="146.3" y1="546.5" x2="146.3" y2="548.1" stroke="#444" stroke-width="0.7"/>
<text class="t" x="145.9" y="553.1" font-size="3.5" fill="#3c3c3c" text-anchor="middle">10<tspan dy="-1.4" font-size="2.4">4</tspan></text>
<text class="t" x="81.4" y="546.7" font-size="2.8" fill="#555" text-anchor="end">0</text>
<line x1="82.5" y1="546.5" x2="152.1" y2="546.5" stroke="#4a4a4a" stroke-width="1.2"/>
</g>
<text x="144.6" y="490.6" font-size="12.3" text-anchor="end" textLength="35.4" lengthAdjust="spacingAndGlyphs">23.2%</text>
<g>
<line x1="176.8" y1="496.8" x2="228.4" y2="496.8" stroke="#cfcfcf" stroke-width="0.6" stroke-dasharray="0.8 0.5"/>
<path d="M160.6 541 L161.2 536.92 L161.8 532.32 L162.4 527.22 L163 521.3 L163.6 515.03 L164.2 509.05 L164.8 503.18 L165.4 497.52 L166 492.29 L166.6 487.61 L167.2 485.33 L167.8 490.79 L168.4 499.68 L169 507.24 L169.6 514.26 L170.2 520.14 L170.8 525.35 L171.4 529.5 L172 532.18 L172.6 534.34 L173.2 536.12 L173.8 537.55 L174.4 538.66 L175 539.51 L175.6 540.17 L176.2 540.76 L176.8 541.4 L177.4 542.18 L178 543.05 L178.6 543.99 L179.2 544.99 L179.8 546.04 L179.8 546.5 L160.6 546.5 Z" fill="#909090" stroke="#777" stroke-width="0.4"/>
<path d="M161.3 545.72 L162.05 545.66 L162.8 545.6 L163.55 545.43 L164.3 545.22 L165.05 544.98 L165.8 544.59 L166.55 544.2 L167.3 543.66 L168.05 543.1 L168.8 542.37 L169.55 539.51 L170.3 534.55 L171.05 529.13 L171.8 524.09 L172.55 515.04 L173.3 506.84 L174.05 501.6 L174.8 496.94 L175.55 494.26 L176.3 492.87 L177.05 491.96 L177.8 492.09 L178.55 494.07 L179.3 495.91 L180.05 498.93 L180.8 503.87 L181.55 509.44 L182.3 514.9 L183.05 519.4 L183.8 523.67 L184.55 528 L185.3 531.04 L186.05 533.53 L186.8 535.84 L187.55 537.93 L188.3 539.29 L189.05 540.55 L189.8 541.54 L190.55 542.23 L191.3 542.93 L192.05 543.54 L192.8 544.1 L193.55 544.52 L194.3 544.92 L195.05 545.17 L195.8 545.5 L196.55 545.7 L197.3 545.83 L198.05 545.83 L198.8 545.86 L199.55 545.87 L200.3 545.91 L201.05 545.93 L201.8 545.94 L202.55 545.96 L203.3 545.96 L204.05 545.99 L204.8 546 L205.55 546.01 L206.3 546.01 L207.05 546.03 L207.8 546.03 L208.55 546.01 L209.3 546.03 L210.05 546.02 L210.8 546.03 L211.55 546.05 L212.3 546.05 L213.05 546.07 L213.8 546.08 L214.55 546.07 L215.3 546.06 L216.05 546.07 L216.8 546.07 L217.55 546.08 L218.3 546.07 L219.05 546.09 L219.8 546.08 L220.55 546.1 L221.3 546.1 L222.05 546.11 L222.8 546.09 L223.55 546.08 L224.3 546.08 L225.05 546.09 L225.8 546.09 L226.55 546.08 L227.3 546.1 L228.05 546.09 L228.8 546.11" fill="none" stroke="#333" stroke-width="0.75" stroke-linejoin="round"/>
<rect x="160.3" y="478.7" width="68.6" height="67.8" fill="none" stroke="#777" stroke-width="1"/>
<line x1="165.1" y1="546.5" x2="165.1" y2="548.1" stroke="#444" stroke-width="0.7"/>
<text class="t" x="164.7" y="553.1" font-size="3.5" fill="#3c3c3c" text-anchor="middle">10<tspan dy="-1.4" font-size="2.4">0</tspan></text>
<line x1="177.7" y1="546.5" x2="177.7" y2="548.1" stroke="#444" stroke-width="0.7"/>
<text class="t" x="177.3" y="553.1" font-size="3.5" fill="#3c3c3c" text-anchor="middle">10<tspan dy="-1.4" font-size="2.4">1</tspan></text>
<line x1="194.5" y1="546.5" x2="194.5" y2="548.1" stroke="#444" stroke-width="0.7"/>
<text class="t" x="194.1" y="553.1" font-size="3.5" fill="#3c3c3c" text-anchor="middle">10<tspan dy="-1.4" font-size="2.4">2</tspan></text>
<line x1="210.6" y1="546.5" x2="210.6" y2="548.1" stroke="#444" stroke-width="0.7"/>
<text class="t" x="210.2" y="553.1" font-size="3.5" fill="#3c3c3c" text-anchor="middle">10<tspan dy="-1.4" font-size="2.4">3</tspan></text>
<line x1="223.6" y1="546.5" x2="223.6" y2="548.1" stroke="#444" stroke-width="0.7"/>
<text class="t" x="223.2" y="553.1" font-size="3.5" fill="#3c3c3c" text-anchor="middle">10<tspan dy="-1.4" font-size="2.4">4</tspan></text>
<text class="t" x="158.7" y="546.7" font-size="2.8" fill="#555" text-anchor="end">0</text>
<line x1="159.8" y1="546.5" x2="229.4" y2="546.5" stroke="#4a4a4a" stroke-width="1.2"/>
</g>
<text x="221.9" y="490.6" font-size="12.3" text-anchor="end" textLength="35.4" lengthAdjust="spacingAndGlyphs">47.3%</text>
<g>
<line x1="254.1" y1="496.8" x2="305.7" y2="496.8" stroke="#cfcfcf" stroke-width="0.6" stroke-dasharray="0.8 0.5"/>
<path d="M237.9 540 L238.5 535.8 L239.1 530.81 L239.7 524.93 L240.3 517.97 L240.9 511 L241.5 504.31 L242.1 497.89 L242.7 492.38 L243.3 487.66 L243.9 489 L244.5 496.44 L245.1 504.45 L245.7 511.71 L246.3 518.09 L246.9 523.23 L247.5 527.64 L248.1 530.98 L248.7 533.71 L249.3 536.1 L249.9 538.08 L250.5 539.54 L251.1 540.51 L251.7 541.27 L252.3 541.91 L252.9 542.45 L253.5 542.94 L254.1 543.42 L254.7 543.92 L255.3 544.48 L255.9 545.04 L256.5 545.59 L257.1 546.13 L257.1 546.5 L237.9 546.5 Z" fill="#909090" stroke="#777" stroke-width="0.4"/>
<path d="M239.2 545.73 L239.95 545.67 L240.7 545.59 L241.45 545.4 L242.2 545.24 L242.95 544.94 L243.7 544.57 L244.45 544.12 L245.2 543.82 L245.95 543.06 L246.7 542.22 L247.45 539.5 L248.2 535.03 L248.95 529.59 L249.7 523.25 L250.45 513.82 L251.2 504.97 L251.95 498.35 L252.7 492.86 L253.45 490.23 L254.2 487.52 L254.95 486.73 L255.7 486.81 L256.45 488.76 L257.2 491.44 L257.95 494.74 L258.7 500.38 L259.45 505.74 L260.2 511.86 L260.95 516.69 L261.7 522.3 L262.45 526.86 L263.2 530.01 L263.95 533.14 L264.7 534.62 L265.45 536.59 L266.2 537.57 L266.95 539.04 L267.7 540.2 L268.45 541.24 L269.2 542.1 L269.95 542.82 L270.7 543.28 L271.45 543.89 L272.2 544.29 L272.95 544.7 L273.7 545.07 L274.45 545.39 L275.2 545.57 L275.95 545.73 L276.7 545.81 L277.45 545.85 L278.2 545.88 L278.95 545.89 L279.7 545.92 L280.45 545.95 L281.2 545.98 L281.95 545.98 L282.7 546 L283.45 545.98 L284.2 546 L284.95 546.01 L285.7 546.02 L286.45 546.01 L287.2 546.01 L287.95 546.01 L288.7 546.03 L289.45 546.06 L290.2 546.05 L290.95 546.04 L291.7 546.06 L292.45 546.06 L293.2 546.07 L293.95 546.06 L294.7 546.06 L295.45 546.07 L296.2 546.09 L296.95 546.08 L297.7 546.1 L298.45 546.08 L299.2 546.1 L299.95 546.09 L300.7 546.1 L301.45 546.11 L302.2 546.1 L302.95 546.1 L303.7 546.1 L304.45 546.1 L305.2 546.11 L305.95 546.11" fill="none" stroke="#333" stroke-width="0.75" stroke-linejoin="round"/>
<rect x="237.6" y="478.7" width="68.6" height="67.8" fill="none" stroke="#777" stroke-width="1"/>
<line x1="242.4" y1="546.5" x2="242.4" y2="548.1" stroke="#444" stroke-width="0.7"/>
<text class="t" x="242" y="553.1" font-size="3.5" fill="#3c3c3c" text-anchor="middle">10<tspan dy="-1.4" font-size="2.4">0</tspan></text>
<line x1="255" y1="546.5" x2="255" y2="548.1" stroke="#444" stroke-width="0.7"/>
<text class="t" x="254.6" y="553.1" font-size="3.5" fill="#3c3c3c" text-anchor="middle">10<tspan dy="-1.4" font-size="2.4">1</tspan></text>
<line x1="271.8" y1="546.5" x2="271.8" y2="548.1" stroke="#444" stroke-width="0.7"/>
<text class="t" x="271.4" y="553.1" font-size="3.5" fill="#3c3c3c" text-anchor="middle">10<tspan dy="-1.4" font-size="2.4">2</tspan></text>
<line x1="287.9" y1="546.5" x2="287.9" y2="548.1" stroke="#444" stroke-width="0.7"/>
<text class="t" x="287.5" y="553.1" font-size="3.5" fill="#3c3c3c" text-anchor="middle">10<tspan dy="-1.4" font-size="2.4">3</tspan></text>
<line x1="300.9" y1="546.5" x2="300.9" y2="548.1" stroke="#444" stroke-width="0.7"/>
<text class="t" x="300.5" y="553.1" font-size="3.5" fill="#3c3c3c" text-anchor="middle">10<tspan dy="-1.4" font-size="2.4">4</tspan></text>
<text class="t" x="236" y="546.7" font-size="2.8" fill="#555" text-anchor="end">0</text>
<line x1="237.1" y1="546.5" x2="306.7" y2="546.5" stroke="#4a4a4a" stroke-width="1.2"/>
</g>
<text x="301" y="490.6" font-size="12.3" text-anchor="end" textLength="35.4" lengthAdjust="spacingAndGlyphs">52.0%</text>
<g>
<line x1="331.3" y1="496.8" x2="382.9" y2="496.8" stroke="#cfcfcf" stroke-width="0.6" stroke-dasharray="0.8 0.5"/>
<path d="M315.1 541 L315.7 536.92 L316.3 532.32 L316.9 527.23 L317.5 521.36 L318.1 515.1 L318.7 508.97 L319.3 502.73 L319.9 496.72 L320.5 491.41 L321.1 487 L321.7 485.91 L322.3 492.19 L322.9 501 L323.5 508.37 L324.1 515.01 L324.7 520.68 L325.3 525.37 L325.9 528.87 L326.5 531.93 L327.1 534.5 L327.7 536.48 L328.3 537.89 L328.9 539.04 L329.5 540 L330.1 540.84 L330.7 541.62 L331.3 542.4 L331.9 543.21 L332.5 544 L333.1 544.76 L333.7 545.49 L334.3 546.18 L334.3 546.5 L315.1 546.5 Z" fill="#909090" stroke="#777" stroke-width="0.4"/>
<path d="M316.3 545.71 L317.05 545.6 L317.8 545.41 L318.55 544.92 L319.3 544.34 L320.05 543.53 L320.8 542.47 L321.55 539.47 L322.3 534.22 L323.05 527.93 L323.8 521.36 L324.55 513.59 L325.3 505.59 L326.05 499.44 L326.8 494.18 L327.55 490.68 L328.3 488.48 L329.05 487 L329.8 487.82 L330.55 488.72 L331.3 491.31 L332.05 494.28 L332.8 498.17 L333.55 503.7 L334.3 508.05 L335.05 513.04 L335.8 517.47 L336.55 520.95 L337.3 524.51 L338.05 527.29 L338.8 529.89 L339.55 531.68 L340.3 532.74 L341.05 534.86 L341.8 536.03 L342.55 537.13 L343.3 538.09 L344.05 538.83 L344.8 539.9 L345.55 540.6 L346.3 541.7 L347.05 542.04 L347.8 542.52 L348.55 543.04 L349.3 543.57 L350.05 543.84 L350.8 544.1 L351.55 544.59 L352.3 544.81 L353.05 545.01 L353.8 545.22 L354.55 545.33 L355.3 545.48 L356.05 545.66 L356.8 545.75 L357.55 545.87 L358.3 545.94 L359.05 545.99 L359.8 546 L360.55 545.99 L361.3 546.02 L362.05 546.02 L362.8 546.04 L363.55 546.04 L364.3 546.05 L365.05 546.04 L365.8 546.03 L366.55 546.05 L367.3 546.07 L368.05 546.06 L368.8 546.06 L369.55 546.09 L370.3 546.07 L371.05 546.09 L371.8 546.08 L372.55 546.07 L373.3 546.08 L374.05 546.09 L374.8 546.09 L375.55 546.09 L376.3 546.08 L377.05 546.09 L377.8 546.09 L378.55 546.09 L379.3 546.09 L380.05 546.11 L380.8 546.1 L381.55 546.09 L382.3 546.1 L383.05 546.11" fill="none" stroke="#333" stroke-width="0.75" stroke-linejoin="round"/>
<rect x="314.8" y="478.7" width="68.6" height="67.8" fill="none" stroke="#777" stroke-width="1"/>
<line x1="319.6" y1="546.5" x2="319.6" y2="548.1" stroke="#444" stroke-width="0.7"/>
<text class="t" x="319.2" y="553.1" font-size="3.5" fill="#3c3c3c" text-anchor="middle">10<tspan dy="-1.4" font-size="2.4">0</tspan></text>
<line x1="332.2" y1="546.5" x2="332.2" y2="548.1" stroke="#444" stroke-width="0.7"/>
<text class="t" x="331.8" y="553.1" font-size="3.5" fill="#3c3c3c" text-anchor="middle">10<tspan dy="-1.4" font-size="2.4">1</tspan></text>
<line x1="349" y1="546.5" x2="349" y2="548.1" stroke="#444" stroke-width="0.7"/>
<text class="t" x="348.6" y="553.1" font-size="3.5" fill="#3c3c3c" text-anchor="middle">10<tspan dy="-1.4" font-size="2.4">2</tspan></text>
<line x1="365.1" y1="546.5" x2="365.1" y2="548.1" stroke="#444" stroke-width="0.7"/>
<text class="t" x="364.7" y="553.1" font-size="3.5" fill="#3c3c3c" text-anchor="middle">10<tspan dy="-1.4" font-size="2.4">3</tspan></text>
<line x1="378.1" y1="546.5" x2="378.1" y2="548.1" stroke="#444" stroke-width="0.7"/>
<text class="t" x="377.7" y="553.1" font-size="3.5" fill="#3c3c3c" text-anchor="middle">10<tspan dy="-1.4" font-size="2.4">4</tspan></text>
<text class="t" x="313.2" y="546.7" font-size="2.8" fill="#555" text-anchor="end">0</text>
<line x1="314.3" y1="546.5" x2="383.9" y2="546.5" stroke="#4a4a4a" stroke-width="1.2"/>
</g>
<text x="378" y="490.6" font-size="12.3" text-anchor="end" textLength="35.4" lengthAdjust="spacingAndGlyphs">34.9%</text>
<g>
<line x1="408.3" y1="496.8" x2="459.9" y2="496.8" stroke="#cfcfcf" stroke-width="0.6" stroke-dasharray="0.8 0.5"/>
<path d="M392.1 541 L392.7 536.73 L393.3 531.73 L393.9 525.97 L394.5 519.06 L395.1 512.08 L395.7 505.74 L396.3 499.67 L396.9 494.11 L397.5 489.14 L398.1 486.74 L398.7 492.19 L399.3 500.68 L399.9 508.63 L400.5 515.99 L401.1 521.53 L401.7 525.91 L402.3 529.23 L402.9 532.14 L403.5 534.59 L404.1 536.5 L404.7 537.89 L405.3 539.08 L405.9 540.1 L406.5 541 L407.1 541.81 L407.7 542.55 L408.3 543.25 L408.9 543.94 L409.5 544.6 L410.1 545.21 L410.7 545.76 L411.3 546.25 L411.3 546.5 L392.1 546.5 Z" fill="#909090" stroke="#777" stroke-width="0.4"/>
<path d="M393.6 545.71 L394.35 545.61 L395.1 545.32 L395.85 544.87 L396.6 544.32 L397.35 543.58 L398.1 542.5 L398.85 538.94 L399.6 532.88 L400.35 524.91 L401.1 517.59 L401.85 508.61 L402.6 499.64 L403.35 493.69 L404.1 489.49 L404.85 487.51 L405.6 489.03 L406.35 491.37 L407.1 491.52 L407.85 488.99 L408.6 487.34 L409.35 489.29 L410.1 494.74 L410.85 499.22 L411.6 505.27 L412.35 510.5 L413.1 515.87 L413.85 520.37 L414.6 523.86 L415.35 527.36 L416.1 529.24 L416.85 531.12 L417.6 532.63 L418.35 534.25 L419.1 535.35 L419.85 536.75 L420.6 537.88 L421.35 538.65 L422.1 539.37 L422.85 540.45 L423.6 541.29 L424.35 541.85 L425.1 542.38 L425.85 542.96 L426.6 543.47 L427.35 543.7 L428.1 544.33 L428.85 544.64 L429.6 544.91 L430.35 545.1 L431.1 545.3 L431.85 545.48 L432.6 545.59 L433.35 545.76 L434.1 545.86 L434.85 545.96 L435.6 546 L436.35 546 L437.1 546.01 L437.85 546.02 L438.6 546.03 L439.35 546.04 L440.1 546.03 L440.85 546.03 L441.6 546.04 L442.35 546.04 L443.1 546.05 L443.85 546.06 L444.6 546.05 L445.35 546.06 L446.1 546.08 L446.85 546.07 L447.6 546.08 L448.35 546.07 L449.1 546.07 L449.85 546.08 L450.6 546.1 L451.35 546.09 L452.1 546.08 L452.85 546.1 L453.6 546.1 L454.35 546.1 L455.1 546.09 L455.85 546.1 L456.6 546.12 L457.35 546.09 L458.1 546.1 L458.85 546.09 L459.6 546.09 L460.35 546.1" fill="none" stroke="#333" stroke-width="0.75" stroke-linejoin="round"/>
<rect x="391.8" y="478.7" width="68.6" height="67.8" fill="none" stroke="#777" stroke-width="1"/>
<line x1="396.6" y1="546.5" x2="396.6" y2="548.1" stroke="#444" stroke-width="0.7"/>
<text class="t" x="396.2" y="553.1" font-size="3.5" fill="#3c3c3c" text-anchor="middle">10<tspan dy="-1.4" font-size="2.4">0</tspan></text>
<line x1="409.2" y1="546.5" x2="409.2" y2="548.1" stroke="#444" stroke-width="0.7"/>
<text class="t" x="408.8" y="553.1" font-size="3.5" fill="#3c3c3c" text-anchor="middle">10<tspan dy="-1.4" font-size="2.4">1</tspan></text>
<line x1="426" y1="546.5" x2="426" y2="548.1" stroke="#444" stroke-width="0.7"/>
<text class="t" x="425.6" y="553.1" font-size="3.5" fill="#3c3c3c" text-anchor="middle">10<tspan dy="-1.4" font-size="2.4">2</tspan></text>
<line x1="442.1" y1="546.5" x2="442.1" y2="548.1" stroke="#444" stroke-width="0.7"/>
<text class="t" x="441.7" y="553.1" font-size="3.5" fill="#3c3c3c" text-anchor="middle">10<tspan dy="-1.4" font-size="2.4">3</tspan></text>
<line x1="455.1" y1="546.5" x2="455.1" y2="548.1" stroke="#444" stroke-width="0.7"/>
<text class="t" x="454.7" y="553.1" font-size="3.5" fill="#3c3c3c" text-anchor="middle">10<tspan dy="-1.4" font-size="2.4">4</tspan></text>
<text class="t" x="390.2" y="546.7" font-size="2.8" fill="#555" text-anchor="end">0</text>
<line x1="391.3" y1="546.5" x2="460.9" y2="546.5" stroke="#4a4a4a" stroke-width="1.2"/>
</g>
<text x="453.2" y="490.6" font-size="12.3" text-anchor="end" textLength="35.4" lengthAdjust="spacingAndGlyphs">33.5%</text>
<text x="91" y="568.8" font-size="12.3" textLength="26.2" lengthAdjust="spacingAndGlyphs">IFNγ</text>
<line x1="120.5" y1="565.6" x2="460.2" y2="565.6" stroke="#4a4a4a" stroke-width="1.1"/>
<path d="M462.7 565.6L458.1 563.3L459.3 565.6L458.1 567.9Z" fill="#4a4a4a"/>
<g>
<line x1="110.4" y1="595" x2="151.1" y2="595" stroke="#cfcfcf" stroke-width="0.6" stroke-dasharray="0.8 0.5"/>
<path d="M85.8 643.7 L86.4 643.61 L87 643.41 L87.6 643.12 L88.2 642.75 L88.8 642.32 L89.4 641.85 L90 641.36 L90.6 640.78 L91.2 640 L91.8 639.09 L92.4 638.13 L93 637.06 L93.6 635.71 L94.2 635.2 L94.8 636.28 L95.4 637.53 L96 637.32 L96.6 635.96 L97.2 634.23 L97.8 632.58 L98.4 630.66 L99 628.27 L99.6 625.07 L100.2 620.95 L100.8 616.12 L101.4 610.15 L102 602.84 L102.6 595.62 L103.2 588.33 L103.8 583.5 L104.4 587.92 L105 591.84 L105.6 595.15 L106.2 597.88 L106.8 601.04 L107.4 605.09 L108 609.86 L108.6 615.86 L109.2 622.78 L109.8 628.48 L110.4 633.36 L111 636.86 L111.6 639.05 L112.2 640.79 L112.8 642.07 L113.4 642.91 L114 643.57 L114.6 643.96 L114.6 644 L85.8 644 Z" fill="#909090" stroke="#777" stroke-width="0.4"/>
<path d="M83.3 643.51 L84.05 643.5 L84.8 643.45 L85.55 643.41 L86.3 643.34 L87.05 643.24 L87.8 643.18 L88.55 643.08 L89.3 642.95 L90.05 642.75 L90.8 642.63 L91.55 642.44 L92.3 642.08 L93.05 641.62 L93.8 641.03 L94.55 640.47 L95.3 640.02 L96.05 639.28 L96.8 638.85 L97.55 638.72 L98.3 638.25 L99.05 637.51 L99.8 636.94 L100.55 635.95 L101.3 634.41 L102.05 631.56 L102.8 625.38 L103.55 617.14 L104.3 607.41 L105.05 599.05 L105.8 592.55 L106.55 587.77 L107.3 584.36 L108.05 586.91 L108.8 592.98 L109.55 600.11 L110.3 608.89 L111.05 619.95 L111.8 629.13 L112.55 635.69 L113.3 639.12 L114.05 641.57 L114.8 642.55 L115.55 643.16 L116.3 643.33 L117.05 643.31 L117.8 643.34 L118.55 643.36 L119.3 643.37 L120.05 643.37 L120.8 643.41 L121.55 643.42 L122.3 643.44 L123.05 643.46 L123.8 643.45 L124.55 643.47 L125.3 643.47 L126.05 643.48 L126.8 643.49 L127.55 643.5 L128.3 643.49 L129.05 643.53 L129.8 643.53 L130.55 643.52 L131.3 643.52 L132.05 643.54 L132.8 643.56 L133.55 643.56 L134.3 643.57 L135.05 643.56 L135.8 643.57 L136.55 643.56 L137.3 643.58 L138.05 643.59 L138.8 643.58 L139.55 643.58 L140.3 643.59 L141.05 643.59 L141.8 643.6 L142.55 643.58 L143.3 643.61 L144.05 643.59 L144.8 643.59 L145.55 643.59 L146.3 643.6 L147.05 643.6 L147.8 643.6 L148.55 643.6 L149.3 643.62 L150.05 643.6 L150.8 643.6 L151.55 643.6" fill="none" stroke="#333" stroke-width="0.75" stroke-linejoin="round"/>
<rect x="83" y="576" width="68.6" height="68" fill="none" stroke="#777" stroke-width="1"/>
<line x1="87.8" y1="644" x2="87.8" y2="645.6" stroke="#444" stroke-width="0.7"/>
<text class="t" x="87.4" y="650.6" font-size="3.5" fill="#3c3c3c" text-anchor="middle">10<tspan dy="-1.4" font-size="2.4">0</tspan></text>
<line x1="100.4" y1="644" x2="100.4" y2="645.6" stroke="#444" stroke-width="0.7"/>
<text class="t" x="100" y="650.6" font-size="3.5" fill="#3c3c3c" text-anchor="middle">10<tspan dy="-1.4" font-size="2.4">1</tspan></text>
<line x1="117.2" y1="644" x2="117.2" y2="645.6" stroke="#444" stroke-width="0.7"/>
<text class="t" x="116.8" y="650.6" font-size="3.5" fill="#3c3c3c" text-anchor="middle">10<tspan dy="-1.4" font-size="2.4">2</tspan></text>
<line x1="133.3" y1="644" x2="133.3" y2="645.6" stroke="#444" stroke-width="0.7"/>
<text class="t" x="132.9" y="650.6" font-size="3.5" fill="#3c3c3c" text-anchor="middle">10<tspan dy="-1.4" font-size="2.4">3</tspan></text>
<line x1="146.3" y1="644" x2="146.3" y2="645.6" stroke="#444" stroke-width="0.7"/>
<text class="t" x="145.9" y="650.6" font-size="3.5" fill="#3c3c3c" text-anchor="middle">10<tspan dy="-1.4" font-size="2.4">4</tspan></text>
<text class="t" x="81.4" y="644.2" font-size="2.8" fill="#555" text-anchor="end">0</text>
<line x1="82.5" y1="644" x2="152.1" y2="644" stroke="#4a4a4a" stroke-width="1.2"/>
</g>
<text x="148" y="587.6" font-size="12.3" text-anchor="end" textLength="35.4" lengthAdjust="spacingAndGlyphs">14.4%</text>
<g>
<line x1="189.4" y1="595" x2="228.4" y2="595" stroke="#cfcfcf" stroke-width="0.6" stroke-dasharray="0.8 0.5"/>
<path d="M162.9 643.7 L163.5 643.61 L164.1 643.42 L164.7 643.13 L165.3 642.76 L165.9 642.34 L166.5 641.87 L167.1 641.39 L167.7 640.81 L168.3 640.04 L168.9 639.14 L169.5 638.19 L170.1 637.13 L170.7 635.79 L171.3 635.29 L171.9 636.36 L172.5 637.59 L173.1 637.39 L173.7 636.04 L174.3 634.32 L174.9 632.69 L175.5 630.79 L176.1 628.43 L176.7 625.25 L177.3 621.18 L177.9 616.4 L178.5 610.48 L179.1 603.25 L179.7 596.1 L180.3 588.89 L180.9 584.1 L181.5 588.47 L182.1 592.36 L182.7 595.63 L183.3 598.33 L183.9 601.46 L184.5 605.47 L185.1 610.2 L185.7 616.14 L186.3 622.99 L186.9 628.64 L187.5 633.47 L188.1 636.93 L188.7 639.09 L189.3 640.82 L189.9 642.09 L190.5 642.92 L191.1 643.57 L191.7 643.96 L191.7 644 L162.9 644 Z" fill="#909090" stroke="#777" stroke-width="0.4"/>
<path d="M160.6 643.51 L161.35 643.5 L162.1 643.48 L162.85 643.48 L163.6 643.48 L164.35 643.46 L165.1 643.4 L165.85 643.32 L166.6 643.23 L167.35 643.09 L168.1 642.97 L168.85 642.85 L169.6 642.68 L170.35 642.51 L171.1 642.2 L171.85 641.79 L172.6 641.19 L173.35 640.71 L174.1 640.02 L174.85 639.41 L175.6 639.07 L176.35 638.8 L177.1 638.15 L177.85 637.79 L178.6 637.5 L179.35 636.5 L180.1 635.11 L180.85 632.44 L181.6 627.6 L182.35 620.17 L183.1 610.48 L183.85 601.55 L184.6 594.68 L185.35 589.52 L186.1 585.65 L186.85 586.65 L187.6 591.35 L188.35 598.42 L189.1 606.71 L189.85 617.76 L190.6 626.8 L191.35 634.02 L192.1 638.47 L192.85 641.23 L193.6 642.4 L194.35 643.07 L195.1 643.3 L195.85 643.33 L196.6 643.35 L197.35 643.36 L198.1 643.4 L198.85 643.37 L199.6 643.4 L200.35 643.41 L201.1 643.42 L201.85 643.45 L202.6 643.43 L203.35 643.48 L204.1 643.49 L204.85 643.49 L205.6 643.51 L206.35 643.53 L207.1 643.52 L207.85 643.53 L208.6 643.53 L209.35 643.54 L210.1 643.54 L210.85 643.54 L211.6 643.56 L212.35 643.55 L213.1 643.57 L213.85 643.58 L214.6 643.57 L215.35 643.58 L216.1 643.58 L216.85 643.58 L217.6 643.6 L218.35 643.59 L219.1 643.59 L219.85 643.58 L220.6 643.6 L221.35 643.58 L222.1 643.59 L222.85 643.61 L223.6 643.61 L224.35 643.6 L225.1 643.59 L225.85 643.6 L226.6 643.6 L227.35 643.6 L228.1 643.59 L228.85 643.61" fill="none" stroke="#333" stroke-width="0.75" stroke-linejoin="round"/>
<rect x="160.3" y="576" width="68.6" height="68" fill="none" stroke="#777" stroke-width="1"/>
<line x1="165.1" y1="644" x2="165.1" y2="645.6" stroke="#444" stroke-width="0.7"/>
<text class="t" x="164.7" y="650.6" font-size="3.5" fill="#3c3c3c" text-anchor="middle">10<tspan dy="-1.4" font-size="2.4">0</tspan></text>
<line x1="177.7" y1="644" x2="177.7" y2="645.6" stroke="#444" stroke-width="0.7"/>
<text class="t" x="177.3" y="650.6" font-size="3.5" fill="#3c3c3c" text-anchor="middle">10<tspan dy="-1.4" font-size="2.4">1</tspan></text>
<line x1="194.5" y1="644" x2="194.5" y2="645.6" stroke="#444" stroke-width="0.7"/>
<text class="t" x="194.1" y="650.6" font-size="3.5" fill="#3c3c3c" text-anchor="middle">10<tspan dy="-1.4" font-size="2.4">2</tspan></text>
<line x1="210.6" y1="644" x2="210.6" y2="645.6" stroke="#444" stroke-width="0.7"/>
<text class="t" x="210.2" y="650.6" font-size="3.5" fill="#3c3c3c" text-anchor="middle">10<tspan dy="-1.4" font-size="2.4">3</tspan></text>
<line x1="223.6" y1="644" x2="223.6" y2="645.6" stroke="#444" stroke-width="0.7"/>
<text class="t" x="223.2" y="650.6" font-size="3.5" fill="#3c3c3c" text-anchor="middle">10<tspan dy="-1.4" font-size="2.4">4</tspan></text>
<text class="t" x="158.7" y="644.2" font-size="2.8" fill="#555" text-anchor="end">0</text>
<line x1="159.8" y1="644" x2="229.4" y2="644" stroke="#4a4a4a" stroke-width="1.2"/>
</g>
<text x="226.8" y="587.6" font-size="12.3" text-anchor="end" textLength="35.4" lengthAdjust="spacingAndGlyphs">35.1%</text>
<g>
<line x1="266.7" y1="595" x2="305.7" y2="595" stroke="#cfcfcf" stroke-width="0.6" stroke-dasharray="0.8 0.5"/>
<path d="M240.5 643.7 L241.1 643.61 L241.7 643.42 L242.3 643.13 L242.9 642.76 L243.5 642.34 L244.1 641.87 L244.7 641.39 L245.3 640.81 L245.9 640.04 L246.5 639.14 L247.1 638.19 L247.7 637.13 L248.3 635.79 L248.9 635.29 L249.5 636.36 L250.1 637.59 L250.7 637.39 L251.3 636.04 L251.9 634.32 L252.5 632.69 L253.1 630.79 L253.7 628.43 L254.3 625.25 L254.9 621.18 L255.5 616.4 L256.1 610.48 L256.7 603.25 L257.3 596.1 L257.9 588.89 L258.5 584.1 L259.1 588.47 L259.7 592.36 L260.3 595.63 L260.9 598.33 L261.5 601.46 L262.1 605.47 L262.7 610.2 L263.3 616.14 L263.9 622.99 L264.5 628.64 L265.1 633.47 L265.7 636.93 L266.3 639.09 L266.9 640.82 L267.5 642.09 L268.1 642.92 L268.7 643.57 L269.3 643.96 L269.3 644 L240.5 644 Z" fill="#909090" stroke="#777" stroke-width="0.4"/>
<path d="M237.9 643.52 L238.65 643.48 L239.4 643.49 L240.15 643.48 L240.9 643.49 L241.65 643.43 L242.4 643.4 L243.15 643.31 L243.9 643.21 L244.65 643.12 L245.4 642.93 L246.15 642.78 L246.9 642.63 L247.65 642.49 L248.4 642.2 L249.15 641.75 L249.9 641.27 L250.65 640.62 L251.4 640.01 L252.15 639.51 L252.9 639.16 L253.65 639.07 L254.4 638.29 L255.15 638.01 L255.9 637.35 L256.65 636.45 L257.4 635.4 L258.15 633 L258.9 627.38 L259.65 619.8 L260.4 610.1 L261.15 601.91 L261.9 594.48 L262.65 589.1 L263.4 585.91 L264.15 586.43 L264.9 591.3 L265.65 598.47 L266.4 606.76 L267.15 618.02 L267.9 626.96 L268.65 634.5 L269.4 638.28 L270.15 641.22 L270.9 642.39 L271.65 643.05 L272.4 643.33 L273.15 643.33 L273.9 643.34 L274.65 643.38 L275.4 643.38 L276.15 643.41 L276.9 643.41 L277.65 643.43 L278.4 643.42 L279.15 643.43 L279.9 643.44 L280.65 643.48 L281.4 643.46 L282.15 643.47 L282.9 643.48 L283.65 643.51 L284.4 643.52 L285.15 643.51 L285.9 643.54 L286.65 643.54 L287.4 643.55 L288.15 643.56 L288.9 643.55 L289.65 643.56 L290.4 643.56 L291.15 643.57 L291.9 643.57 L292.65 643.58 L293.4 643.59 L294.15 643.58 L294.9 643.59 L295.65 643.59 L296.4 643.59 L297.15 643.6 L297.9 643.6 L298.65 643.61 L299.4 643.6 L300.15 643.6 L300.9 643.6 L301.65 643.6 L302.4 643.59 L303.15 643.59 L303.9 643.61 L304.65 643.6 L305.4 643.58 L306.15 643.6" fill="none" stroke="#333" stroke-width="0.75" stroke-linejoin="round"/>
<rect x="237.6" y="576" width="68.6" height="68" fill="none" stroke="#777" stroke-width="1"/>
<line x1="242.4" y1="644" x2="242.4" y2="645.6" stroke="#444" stroke-width="0.7"/>
<text class="t" x="242" y="650.6" font-size="3.5" fill="#3c3c3c" text-anchor="middle">10<tspan dy="-1.4" font-size="2.4">0</tspan></text>
<line x1="255" y1="644" x2="255" y2="645.6" stroke="#444" stroke-width="0.7"/>
<text class="t" x="254.6" y="650.6" font-size="3.5" fill="#3c3c3c" text-anchor="middle">10<tspan dy="-1.4" font-size="2.4">1</tspan></text>
<line x1="271.8" y1="644" x2="271.8" y2="645.6" stroke="#444" stroke-width="0.7"/>
<text class="t" x="271.4" y="650.6" font-size="3.5" fill="#3c3c3c" text-anchor="middle">10<tspan dy="-1.4" font-size="2.4">2</tspan></text>
<line x1="287.9" y1="644" x2="287.9" y2="645.6" stroke="#444" stroke-width="0.7"/>
<text class="t" x="287.5" y="650.6" font-size="3.5" fill="#3c3c3c" text-anchor="middle">10<tspan dy="-1.4" font-size="2.4">3</tspan></text>
<line x1="300.9" y1="644" x2="300.9" y2="645.6" stroke="#444" stroke-width="0.7"/>
<text class="t" x="300.5" y="650.6" font-size="3.5" fill="#3c3c3c" text-anchor="middle">10<tspan dy="-1.4" font-size="2.4">4</tspan></text>
<text class="t" x="236" y="644.2" font-size="2.8" fill="#555" text-anchor="end">0</text>
<line x1="237.1" y1="644" x2="306.7" y2="644" stroke="#4a4a4a" stroke-width="1.2"/>
</g>
<text x="305.8" y="587.6" font-size="12.3" text-anchor="end" textLength="35.4" lengthAdjust="spacingAndGlyphs">38.4%</text>
<g>
<line x1="343.3" y1="595" x2="382.9" y2="595" stroke="#cfcfcf" stroke-width="0.6" stroke-dasharray="0.8 0.5"/>
<path d="M317.7 643.7 L318.3 643.61 L318.9 643.42 L319.5 643.13 L320.1 642.76 L320.7 642.34 L321.3 641.87 L321.9 641.39 L322.5 640.81 L323.1 640.04 L323.7 639.14 L324.3 638.19 L324.9 637.13 L325.5 635.79 L326.1 635.29 L326.7 636.36 L327.3 637.59 L327.9 637.39 L328.5 636.04 L329.1 634.32 L329.7 632.69 L330.3 630.79 L330.9 628.43 L331.5 625.25 L332.1 621.18 L332.7 616.4 L333.3 610.48 L333.9 603.25 L334.5 596.1 L335.1 588.89 L335.7 584.1 L336.3 588.47 L336.9 592.36 L337.5 595.63 L338.1 598.33 L338.7 601.46 L339.3 605.47 L339.9 610.2 L340.5 616.14 L341.1 622.99 L341.7 628.64 L342.3 633.47 L342.9 636.93 L343.5 639.09 L344.1 640.82 L344.7 642.09 L345.3 642.92 L345.9 643.57 L346.5 643.96 L346.5 644 L317.7 644 Z" fill="#909090" stroke="#777" stroke-width="0.4"/>
<path d="M315.1 643.5 L315.85 643.49 L316.6 643.52 L317.35 643.49 L318.1 643.46 L318.85 643.4 L319.6 643.34 L320.35 643.25 L321.1 643.14 L321.85 642.98 L322.6 642.85 L323.35 642.69 L324.1 642.52 L324.85 642.24 L325.6 641.9 L326.35 641.36 L327.1 640.79 L327.85 640.19 L328.6 639.51 L329.35 639.29 L330.1 638.93 L330.85 638.34 L331.6 638.06 L332.35 637.4 L333.1 636.63 L333.85 635.63 L334.6 633.62 L335.35 629.04 L336.1 621.58 L336.85 612 L337.6 603.45 L338.35 595.27 L339.1 590.62 L339.85 586.32 L340.6 586.13 L341.35 590.41 L342.1 596.54 L342.85 604.92 L343.6 615.4 L344.35 625.32 L345.1 633.28 L345.85 637.49 L346.6 640.81 L347.35 642.16 L348.1 642.95 L348.85 643.28 L349.6 643.3 L350.35 643.34 L351.1 643.36 L351.85 643.37 L352.6 643.38 L353.35 643.39 L354.1 643.42 L354.85 643.42 L355.6 643.44 L356.35 643.46 L357.1 643.45 L357.85 643.47 L358.6 643.47 L359.35 643.48 L360.1 643.49 L360.85 643.51 L361.6 643.52 L362.35 643.52 L363.1 643.52 L363.85 643.54 L364.6 643.55 L365.35 643.55 L366.1 643.55 L366.85 643.55 L367.6 643.58 L368.35 643.58 L369.1 643.58 L369.85 643.57 L370.6 643.59 L371.35 643.58 L372.1 643.6 L372.85 643.58 L373.6 643.59 L374.35 643.59 L375.1 643.6 L375.85 643.59 L376.6 643.6 L377.35 643.59 L378.1 643.59 L378.85 643.6 L379.6 643.6 L380.35 643.58 L381.1 643.6 L381.85 643.6 L382.6 643.6 L383.35 643.62" fill="none" stroke="#333" stroke-width="0.75" stroke-linejoin="round"/>
<rect x="314.8" y="576" width="68.6" height="68" fill="none" stroke="#777" stroke-width="1"/>
<line x1="319.6" y1="644" x2="319.6" y2="645.6" stroke="#444" stroke-width="0.7"/>
<text class="t" x="319.2" y="650.6" font-size="3.5" fill="#3c3c3c" text-anchor="middle">10<tspan dy="-1.4" font-size="2.4">0</tspan></text>
<line x1="332.2" y1="644" x2="332.2" y2="645.6" stroke="#444" stroke-width="0.7"/>
<text class="t" x="331.8" y="650.6" font-size="3.5" fill="#3c3c3c" text-anchor="middle">10<tspan dy="-1.4" font-size="2.4">1</tspan></text>
<line x1="349" y1="644" x2="349" y2="645.6" stroke="#444" stroke-width="0.7"/>
<text class="t" x="348.6" y="650.6" font-size="3.5" fill="#3c3c3c" text-anchor="middle">10<tspan dy="-1.4" font-size="2.4">2</tspan></text>
<line x1="365.1" y1="644" x2="365.1" y2="645.6" stroke="#444" stroke-width="0.7"/>
<text class="t" x="364.7" y="650.6" font-size="3.5" fill="#3c3c3c" text-anchor="middle">10<tspan dy="-1.4" font-size="2.4">3</tspan></text>
<line x1="378.1" y1="644" x2="378.1" y2="645.6" stroke="#444" stroke-width="0.7"/>
<text class="t" x="377.7" y="650.6" font-size="3.5" fill="#3c3c3c" text-anchor="middle">10<tspan dy="-1.4" font-size="2.4">4</tspan></text>
<text class="t" x="313.2" y="644.2" font-size="2.8" fill="#555" text-anchor="end">0</text>
<line x1="314.3" y1="644" x2="383.9" y2="644" stroke="#4a4a4a" stroke-width="1.2"/>
</g>
<text x="381" y="587.6" font-size="12.3" text-anchor="end" textLength="35.4" lengthAdjust="spacingAndGlyphs">24.5%</text>
<g>
<line x1="420.9" y1="595" x2="459.9" y2="595" stroke="#cfcfcf" stroke-width="0.6" stroke-dasharray="0.8 0.5"/>
<path d="M395 643.7 L395.6 643.61 L396.2 643.42 L396.8 643.13 L397.4 642.76 L398 642.34 L398.6 641.87 L399.2 641.39 L399.8 640.81 L400.4 640.04 L401 639.14 L401.6 638.19 L402.2 637.13 L402.8 635.79 L403.4 635.29 L404 636.36 L404.6 637.59 L405.2 637.39 L405.8 636.04 L406.4 634.32 L407 632.69 L407.6 630.79 L408.2 628.43 L408.8 625.25 L409.4 621.18 L410 616.4 L410.6 610.48 L411.2 603.25 L411.8 596.1 L412.4 588.89 L413 584.1 L413.6 588.47 L414.2 592.36 L414.8 595.63 L415.4 598.33 L416 601.46 L416.6 605.47 L417.2 610.2 L417.8 616.14 L418.4 622.99 L419 628.64 L419.6 633.47 L420.2 636.93 L420.8 639.09 L421.4 640.82 L422 642.09 L422.6 642.92 L423.2 643.57 L423.8 643.96 L423.8 644 L395 644 Z" fill="#909090" stroke="#777" stroke-width="0.4"/>
<path d="M392.1 643.49 L392.85 643.5 L393.6 643.48 L394.35 643.47 L395.1 643.47 L395.85 643.44 L396.6 643.39 L397.35 643.32 L398.1 643.22 L398.85 643.11 L399.6 642.95 L400.35 642.81 L401.1 642.61 L401.85 642.46 L402.6 642.21 L403.35 641.73 L404.1 641.02 L404.85 640.55 L405.6 640.21 L406.35 639.46 L407.1 638.98 L407.85 638.7 L408.6 638.45 L409.35 637.91 L410.1 637.23 L410.85 636.16 L411.6 634.91 L412.35 632.34 L413.1 627.02 L413.85 619.9 L414.6 610.03 L415.35 601.02 L416.1 593.52 L416.85 588.03 L417.6 584.93 L418.35 585.96 L419.1 590.84 L419.85 597.63 L420.6 605.88 L421.35 616.94 L422.1 627.17 L422.85 634.02 L423.6 638.49 L424.35 640.96 L425.1 642.31 L425.85 643.01 L426.6 643.31 L427.35 643.33 L428.1 643.33 L428.85 643.36 L429.6 643.35 L430.35 643.38 L431.1 643.38 L431.85 643.41 L432.6 643.42 L433.35 643.44 L434.1 643.49 L434.85 643.45 L435.6 643.47 L436.35 643.49 L437.1 643.49 L437.85 643.52 L438.6 643.5 L439.35 643.53 L440.1 643.52 L440.85 643.54 L441.6 643.54 L442.35 643.55 L443.1 643.55 L443.85 643.54 L444.6 643.55 L445.35 643.57 L446.1 643.57 L446.85 643.58 L447.6 643.57 L448.35 643.59 L449.1 643.59 L449.85 643.57 L450.6 643.59 L451.35 643.61 L452.1 643.59 L452.85 643.6 L453.6 643.6 L454.35 643.6 L455.1 643.59 L455.85 643.59 L456.6 643.6 L457.35 643.6 L458.1 643.59 L458.85 643.59 L459.6 643.61 L460.35 643.6" fill="none" stroke="#333" stroke-width="0.75" stroke-linejoin="round"/>
<rect x="391.8" y="576" width="68.6" height="68" fill="none" stroke="#777" stroke-width="1"/>
<line x1="396.6" y1="644" x2="396.6" y2="645.6" stroke="#444" stroke-width="0.7"/>
<text class="t" x="396.2" y="650.6" font-size="3.5" fill="#3c3c3c" text-anchor="middle">10<tspan dy="-1.4" font-size="2.4">0</tspan></text>
<line x1="409.2" y1="644" x2="409.2" y2="645.6" stroke="#444" stroke-width="0.7"/>
<text class="t" x="408.8" y="650.6" font-size="3.5" fill="#3c3c3c" text-anchor="middle">10<tspan dy="-1.4" font-size="2.4">1</tspan></text>
<line x1="426" y1="644" x2="426" y2="645.6" stroke="#444" stroke-width="0.7"/>
<text class="t" x="425.6" y="650.6" font-size="3.5" fill="#3c3c3c" text-anchor="middle">10<tspan dy="-1.4" font-size="2.4">2</tspan></text>
<line x1="442.1" y1="644" x2="442.1" y2="645.6" stroke="#444" stroke-width="0.7"/>
<text class="t" x="441.7" y="650.6" font-size="3.5" fill="#3c3c3c" text-anchor="middle">10<tspan dy="-1.4" font-size="2.4">3</tspan></text>
<line x1="455.1" y1="644" x2="455.1" y2="645.6" stroke="#444" stroke-width="0.7"/>
<text class="t" x="454.7" y="650.6" font-size="3.5" fill="#3c3c3c" text-anchor="middle">10<tspan dy="-1.4" font-size="2.4">4</tspan></text>
<text class="t" x="390.2" y="644.2" font-size="2.8" fill="#555" text-anchor="end">0</text>
<line x1="391.3" y1="644" x2="460.9" y2="644" stroke="#4a4a4a" stroke-width="1.2"/>
</g>
<text x="459.6" y="587.6" font-size="12.3" text-anchor="end" textLength="35.4" lengthAdjust="spacingAndGlyphs">29.8%</text>
<text x="83.6" y="664" font-size="12.3" textLength="45.5" lengthAdjust="spacingAndGlyphs">Perforin</text>
<line x1="131" y1="659.9" x2="458.7" y2="659.9" stroke="#4a4a4a" stroke-width="1.1"/>
<path d="M461.2 659.9L456.6 657.6L457.8 659.9L456.6 662.2Z" fill="#4a4a4a"/>
<line x1="73.1" y1="286.5" x2="73.1" y2="596.6" stroke="#767676" stroke-width="1.25"/>
<path d="M73.1 284.4L75.4 288.8L73.1 287.8L70.8 288.8Z" fill="#4a4a4a"/>
<text x="76" y="645.6" font-size="12.5" textLength="43" lengthAdjust="spacingAndGlyphs" transform="rotate(-90 76 645.6)">Counts</text>
<line x1="81.25" y1="763.1" x2="81.25" y2="758.3" stroke="#000" stroke-width="1.2"/>
<line x1="77.75" y1="758.3" x2="84.75" y2="758.3" stroke="#000" stroke-width="1.2"/>
<rect x="74.85" y="763.45" width="12.8" height="37.15" fill="#ffffff" stroke="#000" stroke-width="1.3"/>
<line x1="100" y1="723.7" x2="100" y2="721.7" stroke="#000" stroke-width="1.2"/>
<line x1="96.5" y1="721.7" x2="103.5" y2="721.7" stroke="#000" stroke-width="1.2"/>
<rect x="93.75" y="724.05" width="12.5" height="76.55" fill="#d0d0d0" stroke="#000" stroke-width="1.3"/>
<text x="100" y="720.8" font-size="7" text-anchor="middle">**</text>
<line x1="119.25" y1="716" x2="119.25" y2="715" stroke="#000" stroke-width="1.2"/>
<line x1="115.75" y1="715" x2="122.75" y2="715" stroke="#000" stroke-width="1.2"/>
<rect x="112.95" y="716.35" width="12.6" height="84.25" fill="#6e6e6e" stroke="#000" stroke-width="1.3"/>
<text x="119.25" y="716.6" font-size="7" text-anchor="middle">**</text>
<line x1="138.45" y1="709.2" x2="138.45" y2="703.8" stroke="#000" stroke-width="1.2"/>
<line x1="134.95" y1="703.8" x2="141.95" y2="703.8" stroke="#000" stroke-width="1.2"/>
<rect x="132.15" y="709.55" width="12.6" height="91.05" fill="#262626" stroke="#000" stroke-width="1.3"/>
<text x="138.45" y="705.1" font-size="7" text-anchor="middle">***</text>
<line x1="157.5" y1="726.9" x2="157.5" y2="722.7" stroke="#000" stroke-width="1.2"/>
<line x1="154" y1="722.7" x2="161" y2="722.7" stroke="#000" stroke-width="1.2"/>
<rect x="151.45" y="727.25" width="12.1" height="73.35" fill="#101010" stroke="#000" stroke-width="1.3"/>
<text x="157.5" y="723.7" font-size="7" text-anchor="middle">**</text>
<line x1="81.25" y1="800.6" x2="81.25" y2="804" stroke="#000" stroke-width="1.2"/>
<line x1="100" y1="800.6" x2="100" y2="804" stroke="#000" stroke-width="1.2"/>
<line x1="119.25" y1="800.6" x2="119.25" y2="804" stroke="#000" stroke-width="1.2"/>
<line x1="138.45" y1="800.6" x2="138.45" y2="804" stroke="#000" stroke-width="1.2"/>
<line x1="157.5" y1="800.6" x2="157.5" y2="804" stroke="#000" stroke-width="1.2"/>
<line x1="72.1" y1="687" x2="72.1" y2="801.45" stroke="#000" stroke-width="1.7"/>
<line x1="71.25" y1="800.6" x2="168" y2="800.6" stroke="#000" stroke-width="1.7"/>
<line x1="68.4" y1="800.6" x2="72.1" y2="800.6" stroke="#000" stroke-width="1.2"/>
<text x="66.2" y="805.19" font-size="7.2" text-anchor="end" textLength="4.28" lengthAdjust="spacingAndGlyphs">0</text>
<line x1="68.4" y1="763" x2="72.1" y2="763" stroke="#000" stroke-width="1.2"/>
<text x="66.2" y="767.59" font-size="7.2" text-anchor="end" textLength="4.28" lengthAdjust="spacingAndGlyphs">1</text>
<line x1="68.4" y1="725.2" x2="72.1" y2="725.2" stroke="#000" stroke-width="1.2"/>
<text x="66.2" y="729.79" font-size="7.2" text-anchor="end" textLength="4.28" lengthAdjust="spacingAndGlyphs">2</text>
<line x1="68.4" y1="687.6" x2="72.1" y2="687.6" stroke="#000" stroke-width="1.2"/>
<text x="66.2" y="692.19" font-size="7.2" text-anchor="end" textLength="4.28" lengthAdjust="spacingAndGlyphs">3</text>
<text x="45.6" y="742" font-size="7.6" text-anchor="middle" textLength="46.5" lengthAdjust="spacingAndGlyphs" transform="rotate(-90 45.6 742)">TNFα mRNA</text>
<text x="54.4" y="741" font-size="7.6" text-anchor="middle" textLength="101.5" lengthAdjust="spacingAndGlyphs" transform="rotate(-90 54.4 741)">(100% relative expression)</text>
<text x="45.6" y="816" font-size="7" textLength="18.2" lengthAdjust="spacingAndGlyphs">rhCC:</text>
<text x="45.6" y="826" font-size="7" textLength="19" lengthAdjust="spacingAndGlyphs">rhIL2:</text>
<text x="81.25" y="816" font-size="7" text-anchor="middle">0</text>
<text x="81.25" y="826" font-size="7" text-anchor="middle">0</text>
<text x="100" y="816" font-size="7" text-anchor="middle">1</text>
<text x="100" y="826" font-size="7" text-anchor="middle">0</text>
<text x="119.25" y="816" font-size="7" text-anchor="middle">10</text>
<text x="119.25" y="826" font-size="7" text-anchor="middle">0</text>
<text x="138.45" y="816" font-size="7" text-anchor="middle">100</text>
<text x="138.45" y="826" font-size="7" text-anchor="middle">0</text>
<text x="157.5" y="816" font-size="7" text-anchor="middle">0</text>
<text x="157.5" y="826" font-size="7" text-anchor="middle">20</text>
<text x="164.8" y="816" font-size="7" textLength="24.4" lengthAdjust="spacingAndGlyphs">(ng/mL)</text>
<line x1="230.3" y1="755.8" x2="230.3" y2="752.5" stroke="#000" stroke-width="1.2"/>
<line x1="226.8" y1="752.5" x2="233.8" y2="752.5" stroke="#000" stroke-width="1.2"/>
<rect x="224.05" y="756.15" width="12.5" height="44.35" fill="#ffffff" stroke="#000" stroke-width="1.3"/>
<line x1="249.55" y1="725.6" x2="249.55" y2="720.8" stroke="#000" stroke-width="1.2"/>
<line x1="246.05" y1="720.8" x2="253.05" y2="720.8" stroke="#000" stroke-width="1.2"/>
<rect x="243.25" y="725.95" width="12.6" height="74.55" fill="#d0d0d0" stroke="#000" stroke-width="1.3"/>
<text x="249.55" y="721.8" font-size="7" text-anchor="middle">**</text>
<line x1="268.75" y1="706.9" x2="268.75" y2="704.4" stroke="#000" stroke-width="1.2"/>
<line x1="265.25" y1="704.4" x2="272.25" y2="704.4" stroke="#000" stroke-width="1.2"/>
<rect x="262.45" y="707.25" width="12.6" height="93.25" fill="#6e6e6e" stroke="#000" stroke-width="1.3"/>
<text x="268.75" y="705.1" font-size="7" text-anchor="middle">***</text>
<line x1="288.2" y1="729.4" x2="288.2" y2="726" stroke="#000" stroke-width="1.2"/>
<line x1="284.7" y1="726" x2="291.7" y2="726" stroke="#000" stroke-width="1.2"/>
<rect x="281.75" y="729.75" width="12.9" height="70.75" fill="#262626" stroke="#000" stroke-width="1.3"/>
<text x="288.2" y="727" font-size="7" text-anchor="middle">**</text>
<line x1="307.6" y1="727.5" x2="307.6" y2="725" stroke="#000" stroke-width="1.2"/>
<line x1="304.1" y1="725" x2="311.1" y2="725" stroke="#000" stroke-width="1.2"/>
<rect x="301.35" y="727.85" width="12.5" height="72.65" fill="#101010" stroke="#000" stroke-width="1.3"/>
<text x="307.6" y="725.6" font-size="7" text-anchor="middle">**</text>
<line x1="230.3" y1="800.5" x2="230.3" y2="803.9" stroke="#000" stroke-width="1.2"/>
<line x1="249.55" y1="800.5" x2="249.55" y2="803.9" stroke="#000" stroke-width="1.2"/>
<line x1="268.75" y1="800.5" x2="268.75" y2="803.9" stroke="#000" stroke-width="1.2"/>
<line x1="288.2" y1="800.5" x2="288.2" y2="803.9" stroke="#000" stroke-width="1.2"/>
<line x1="307.6" y1="800.5" x2="307.6" y2="803.9" stroke="#000" stroke-width="1.2"/>
<line x1="220.8" y1="687" x2="220.8" y2="801.35" stroke="#000" stroke-width="1.7"/>
<line x1="219.95" y1="800.5" x2="318.6" y2="800.5" stroke="#000" stroke-width="1.7"/>
<line x1="217.1" y1="800.5" x2="220.8" y2="800.5" stroke="#000" stroke-width="1.2"/>
<text x="213.5" y="803.99" font-size="7.2" text-anchor="end" textLength="10.71" lengthAdjust="spacingAndGlyphs">0.0</text>
<line x1="217.1" y1="777.9" x2="220.8" y2="777.9" stroke="#000" stroke-width="1.2"/>
<text x="213.5" y="781.39" font-size="7.2" text-anchor="end" textLength="10.71" lengthAdjust="spacingAndGlyphs">0.5</text>
<line x1="217.1" y1="755.4" x2="220.8" y2="755.4" stroke="#000" stroke-width="1.2"/>
<text x="213.5" y="758.89" font-size="7.2" text-anchor="end" textLength="10.71" lengthAdjust="spacingAndGlyphs">1.0</text>
<line x1="217.1" y1="732.8" x2="220.8" y2="732.8" stroke="#000" stroke-width="1.2"/>
<text x="213.5" y="736.29" font-size="7.2" text-anchor="end" textLength="10.71" lengthAdjust="spacingAndGlyphs">1.5</text>
<line x1="217.1" y1="710.2" x2="220.8" y2="710.2" stroke="#000" stroke-width="1.2"/>
<text x="213.5" y="713.69" font-size="7.2" text-anchor="end" textLength="10.71" lengthAdjust="spacingAndGlyphs">2.0</text>
<line x1="217.1" y1="687.6" x2="220.8" y2="687.6" stroke="#000" stroke-width="1.2"/>
<text x="213.5" y="691.09" font-size="7.2" text-anchor="end" textLength="10.71" lengthAdjust="spacingAndGlyphs">2.5</text>
<text x="186.4" y="740.6" font-size="7.6" text-anchor="middle" textLength="73.5" lengthAdjust="spacingAndGlyphs" transform="rotate(-90 186.4 740.6)">Granzyme B mRNA</text>
<text x="195.9" y="741" font-size="7.6" text-anchor="middle" textLength="101.5" lengthAdjust="spacingAndGlyphs" transform="rotate(-90 195.9 741)">(100% relative expression)</text>
<text x="194.4" y="816" font-size="7" textLength="18.2" lengthAdjust="spacingAndGlyphs">rhCC:</text>
<text x="194.4" y="826" font-size="7" textLength="19" lengthAdjust="spacingAndGlyphs">rhIL2:</text>
<text x="230.3" y="816" font-size="7" text-anchor="middle">0</text>
<text x="230.3" y="826" font-size="7" text-anchor="middle">0</text>
<text x="249.55" y="816" font-size="7" text-anchor="middle">1</text>
<text x="249.55" y="826" font-size="7" text-anchor="middle">0</text>
<text x="268.75" y="816" font-size="7" text-anchor="middle">10</text>
<text x="268.75" y="826" font-size="7" text-anchor="middle">0</text>
<text x="288.2" y="816" font-size="7" text-anchor="middle">100</text>
<text x="288.2" y="826" font-size="7" text-anchor="middle">0</text>
<text x="307.6" y="816" font-size="7" text-anchor="middle">0</text>
<text x="307.6" y="826" font-size="7" text-anchor="middle">20</text>
<text x="315.4" y="816" font-size="7" textLength="24.4" lengthAdjust="spacingAndGlyphs">(ng/mL)</text>
<line x1="382.1" y1="754.7" x2="382.1" y2="750" stroke="#000" stroke-width="1.2"/>
<line x1="378.6" y1="750" x2="385.6" y2="750" stroke="#000" stroke-width="1.2"/>
<rect x="375.65" y="755.05" width="12.9" height="45.45" fill="#ffffff" stroke="#000" stroke-width="1.3"/>
<rect x="395.25" y="744.35" width="12.9" height="56.15" fill="#d0d0d0" stroke="#000" stroke-width="1.3"/>
<line x1="421.5" y1="733.9" x2="421.5" y2="733" stroke="#000" stroke-width="1.2"/>
<line x1="418" y1="733" x2="425" y2="733" stroke="#000" stroke-width="1.2"/>
<rect x="415.05" y="734.25" width="12.9" height="66.25" fill="#6e6e6e" stroke="#000" stroke-width="1.3"/>
<text x="421.5" y="733.7" font-size="7" text-anchor="middle">*</text>
<line x1="441.3" y1="738.5" x2="441.3" y2="737.6" stroke="#000" stroke-width="1.2"/>
<line x1="437.8" y1="737.6" x2="444.8" y2="737.6" stroke="#000" stroke-width="1.2"/>
<rect x="434.85" y="738.85" width="12.9" height="61.65" fill="#262626" stroke="#000" stroke-width="1.3"/>
<text x="441.3" y="738.4" font-size="7" text-anchor="middle">*</text>
<line x1="461.2" y1="698.1" x2="461.2" y2="694.1" stroke="#000" stroke-width="1.2"/>
<line x1="457.7" y1="694.1" x2="464.7" y2="694.1" stroke="#000" stroke-width="1.2"/>
<rect x="455.05" y="698.45" width="12.3" height="102.05" fill="#101010" stroke="#000" stroke-width="1.3"/>
<text x="461.2" y="694.6" font-size="7" text-anchor="middle">***</text>
<line x1="382.1" y1="800.5" x2="382.1" y2="803.9" stroke="#000" stroke-width="1.2"/>
<line x1="401.7" y1="800.5" x2="401.7" y2="803.9" stroke="#000" stroke-width="1.2"/>
<line x1="421.5" y1="800.5" x2="421.5" y2="803.9" stroke="#000" stroke-width="1.2"/>
<line x1="441.3" y1="800.5" x2="441.3" y2="803.9" stroke="#000" stroke-width="1.2"/>
<line x1="461.2" y1="800.5" x2="461.2" y2="803.9" stroke="#000" stroke-width="1.2"/>
<line x1="372.4" y1="686.4" x2="372.4" y2="801.35" stroke="#000" stroke-width="1.7"/>
<line x1="371.55" y1="800.5" x2="472" y2="800.5" stroke="#000" stroke-width="1.7"/>
<line x1="368.7" y1="800.5" x2="372.4" y2="800.5" stroke="#000" stroke-width="1.2"/>
<text x="365.9" y="803.99" font-size="7.2" text-anchor="end" textLength="10.71" lengthAdjust="spacingAndGlyphs">0.0</text>
<line x1="368.7" y1="777.7" x2="372.4" y2="777.7" stroke="#000" stroke-width="1.2"/>
<text x="365.9" y="781.19" font-size="7.2" text-anchor="end" textLength="10.71" lengthAdjust="spacingAndGlyphs">0.5</text>
<line x1="368.7" y1="755" x2="372.4" y2="755" stroke="#000" stroke-width="1.2"/>
<text x="365.9" y="758.49" font-size="7.2" text-anchor="end" textLength="10.71" lengthAdjust="spacingAndGlyphs">1.0</text>
<line x1="368.7" y1="732.3" x2="372.4" y2="732.3" stroke="#000" stroke-width="1.2"/>
<text x="365.9" y="735.79" font-size="7.2" text-anchor="end" textLength="10.71" lengthAdjust="spacingAndGlyphs">1.5</text>
<line x1="368.7" y1="709.6" x2="372.4" y2="709.6" stroke="#000" stroke-width="1.2"/>
<text x="365.9" y="713.09" font-size="7.2" text-anchor="end" textLength="10.71" lengthAdjust="spacingAndGlyphs">2.0</text>
<line x1="368.7" y1="687" x2="372.4" y2="687" stroke="#000" stroke-width="1.2"/>
<text x="365.9" y="690.49" font-size="7.2" text-anchor="end" textLength="10.71" lengthAdjust="spacingAndGlyphs">2.5</text>
<text x="338.2" y="741" font-size="7.6" text-anchor="middle" textLength="45" lengthAdjust="spacingAndGlyphs" transform="rotate(-90 338.2 741)">IFNγ mRNA</text>
<text x="346.8" y="741" font-size="7.6" text-anchor="middle" textLength="101.5" lengthAdjust="spacingAndGlyphs" transform="rotate(-90 346.8 741)">(100% relative expression)</text>
<text x="348" y="816" font-size="7" textLength="18.2" lengthAdjust="spacingAndGlyphs">rhCC:</text>
<text x="348" y="826" font-size="7" textLength="19" lengthAdjust="spacingAndGlyphs">rhIL2:</text>
<text x="382.1" y="816" font-size="7" text-anchor="middle">0</text>
<text x="382.1" y="826" font-size="7" text-anchor="middle">0</text>
<text x="401.7" y="816" font-size="7" text-anchor="middle">1</text>
<text x="401.7" y="826" font-size="7" text-anchor="middle">0</text>
<text x="421.5" y="816" font-size="7" text-anchor="middle">10</text>
<text x="421.5" y="826" font-size="7" text-anchor="middle">0</text>
<text x="441.3" y="816" font-size="7" text-anchor="middle">100</text>
<text x="441.3" y="826" font-size="7" text-anchor="middle">0</text>
<text x="461.2" y="816" font-size="7" text-anchor="middle">0</text>
<text x="461.2" y="826" font-size="7" text-anchor="middle">20</text>
<text x="467.4" y="816" font-size="7" textLength="24.4" lengthAdjust="spacingAndGlyphs">(ng/mL)</text>
<line x1="80.35" y1="921.5" x2="80.35" y2="920.6" stroke="#000" stroke-width="1.2"/>
<line x1="76.85" y1="920.6" x2="83.85" y2="920.6" stroke="#000" stroke-width="1.2"/>
<rect x="74.55" y="921.85" width="11.6" height="41.95" fill="#ffffff" stroke="#000" stroke-width="1.3"/>
<line x1="97.45" y1="901" x2="97.45" y2="898" stroke="#000" stroke-width="1.2"/>
<line x1="93.95" y1="898" x2="100.95" y2="898" stroke="#000" stroke-width="1.2"/>
<rect x="91.95" y="901.35" width="11" height="62.45" fill="#b8b8b8" stroke="#000" stroke-width="1.3"/>
<text x="97.45" y="899.2" font-size="9.4" text-anchor="middle" textLength="7.4" lengthAdjust="spacingAndGlyphs">**</text>
<line x1="114.05" y1="879.2" x2="114.05" y2="878" stroke="#000" stroke-width="1.2"/>
<line x1="110.55" y1="878" x2="117.55" y2="878" stroke="#000" stroke-width="1.2"/>
<rect x="108.25" y="879.55" width="11.6" height="84.25" fill="#747474" stroke="#000" stroke-width="1.3"/>
<text x="114.05" y="879.8" font-size="9.4" text-anchor="middle" textLength="11.1" lengthAdjust="spacingAndGlyphs">***</text>
<line x1="130.85" y1="876.5" x2="130.85" y2="873.5" stroke="#000" stroke-width="1.2"/>
<line x1="127.35" y1="873.5" x2="134.35" y2="873.5" stroke="#000" stroke-width="1.2"/>
<rect x="125.15" y="876.85" width="11.4" height="86.95" fill="#2b2b2b" stroke="#000" stroke-width="1.3"/>
<text x="130.85" y="874" font-size="9.4" text-anchor="middle" textLength="11.1" lengthAdjust="spacingAndGlyphs">***</text>
<line x1="147.65" y1="861.5" x2="147.65" y2="859.2" stroke="#000" stroke-width="1.2"/>
<line x1="144.15" y1="859.2" x2="151.15" y2="859.2" stroke="#000" stroke-width="1.2"/>
<rect x="142.05" y="861.85" width="11.2" height="101.95" fill="#000000" stroke="#000" stroke-width="1.3"/>
<text x="147.65" y="859.4" font-size="9.4" text-anchor="middle" textLength="11.1" lengthAdjust="spacingAndGlyphs">***</text>
<line x1="72" y1="856.5" x2="72" y2="964.65" stroke="#000" stroke-width="1.7"/>
<line x1="71.15" y1="963.8" x2="155" y2="963.8" stroke="#000" stroke-width="1.7"/>
<line x1="68.3" y1="963.8" x2="72" y2="963.8" stroke="#000" stroke-width="1.2"/>
<text x="66.7" y="968.06" font-size="7.4" text-anchor="end" textLength="4.4" lengthAdjust="spacingAndGlyphs">0</text>
<line x1="68.3" y1="942.4" x2="72" y2="942.4" stroke="#000" stroke-width="1.2"/>
<text x="66.7" y="945.46" font-size="7.4" text-anchor="end" textLength="13.21" lengthAdjust="spacingAndGlyphs">900</text>
<line x1="68.3" y1="921.1" x2="72" y2="921.1" stroke="#000" stroke-width="1.2"/>
<text x="66.7" y="924.16" font-size="7.4" text-anchor="end" textLength="19.81" lengthAdjust="spacingAndGlyphs">1,800</text>
<line x1="68.3" y1="899.8" x2="72" y2="899.8" stroke="#000" stroke-width="1.2"/>
<text x="66.7" y="902.86" font-size="7.4" text-anchor="end" textLength="19.81" lengthAdjust="spacingAndGlyphs">2,700</text>
<line x1="68.3" y1="878.5" x2="72" y2="878.5" stroke="#000" stroke-width="1.2"/>
<text x="66.7" y="881.56" font-size="7.4" text-anchor="end" textLength="19.81" lengthAdjust="spacingAndGlyphs">3,600</text>
<line x1="68.3" y1="857.1" x2="72" y2="857.1" stroke="#000" stroke-width="1.2"/>
<text x="66.7" y="860.16" font-size="7.4" text-anchor="end" textLength="19.81" lengthAdjust="spacingAndGlyphs">4,500</text>
<text x="35.7" y="914.8" font-size="7.6" text-anchor="middle" textLength="52" lengthAdjust="spacingAndGlyphs" transform="rotate(-90 35.7 914.8)">TNFα (pg/mL)</text>
<text x="44.2" y="974.6" font-size="7.3" textLength="18.2" lengthAdjust="spacingAndGlyphs">rhCC:</text>
<text x="44.2" y="984.4" font-size="7.3" textLength="19" lengthAdjust="spacingAndGlyphs">rhIL2:</text>
<text x="78.1" y="974.6" font-size="7.3" text-anchor="middle">0</text>
<text x="78.1" y="984.4" font-size="7.3" text-anchor="middle">0</text>
<text x="96.2" y="974.6" font-size="7.3" text-anchor="middle">1</text>
<text x="96.2" y="984.4" font-size="7.3" text-anchor="middle">0</text>
<text x="112.7" y="974.6" font-size="7.3" text-anchor="middle">10</text>
<text x="112.7" y="984.4" font-size="7.3" text-anchor="middle">0</text>
<text x="130.3" y="974.6" font-size="7.3" text-anchor="middle">100</text>
<text x="130.3" y="984.4" font-size="7.3" text-anchor="middle">0</text>
<text x="148.2" y="974.6" font-size="7.3" text-anchor="middle">0</text>
<text x="148.2" y="984.4" font-size="7.3" text-anchor="middle">20</text>
<text x="155.2" y="974.6" font-size="7.3" textLength="24.4" lengthAdjust="spacingAndGlyphs">(ng/mL)</text>
<line x1="231.45" y1="897.7" x2="231.45" y2="893.8" stroke="#000" stroke-width="1.2"/>
<line x1="227.95" y1="893.8" x2="234.95" y2="893.8" stroke="#000" stroke-width="1.2"/>
<rect x="225.95" y="898.05" width="11" height="65.75" fill="#ffffff" stroke="#000" stroke-width="1.3"/>
<line x1="248.75" y1="876.5" x2="248.75" y2="874" stroke="#000" stroke-width="1.2"/>
<line x1="245.25" y1="874" x2="252.25" y2="874" stroke="#000" stroke-width="1.2"/>
<rect x="243.25" y="876.85" width="11" height="86.95" fill="#b8b8b8" stroke="#000" stroke-width="1.3"/>
<text x="248.75" y="874.8" font-size="9.4" text-anchor="middle" textLength="7.4" lengthAdjust="spacingAndGlyphs">**</text>
<line x1="266.35" y1="863.1" x2="266.35" y2="861.9" stroke="#000" stroke-width="1.2"/>
<line x1="262.85" y1="861.9" x2="269.85" y2="861.9" stroke="#000" stroke-width="1.2"/>
<rect x="260.55" y="863.45" width="11.6" height="100.35" fill="#747474" stroke="#000" stroke-width="1.3"/>
<text x="266.35" y="862.5" font-size="9.4" text-anchor="middle" textLength="11.1" lengthAdjust="spacingAndGlyphs">***</text>
<line x1="283.65" y1="866.3" x2="283.65" y2="865" stroke="#000" stroke-width="1.2"/>
<line x1="280.15" y1="865" x2="287.15" y2="865" stroke="#000" stroke-width="1.2"/>
<rect x="277.85" y="866.65" width="11.6" height="97.15" fill="#2b2b2b" stroke="#000" stroke-width="1.3"/>
<text x="283.65" y="865.8" font-size="9.4" text-anchor="middle" textLength="7.4" lengthAdjust="spacingAndGlyphs">**</text>
<line x1="301.15" y1="864.4" x2="301.15" y2="863.6" stroke="#000" stroke-width="1.2"/>
<line x1="297.65" y1="863.6" x2="304.65" y2="863.6" stroke="#000" stroke-width="1.2"/>
<rect x="295.55" y="864.75" width="11.2" height="99.05" fill="#000000" stroke="#000" stroke-width="1.3"/>
<text x="301.15" y="863.3" font-size="9.4" text-anchor="middle" textLength="7.4" lengthAdjust="spacingAndGlyphs">**</text>
<line x1="222.7" y1="854.2" x2="222.7" y2="964.65" stroke="#000" stroke-width="1.7"/>
<line x1="221.85" y1="963.8" x2="308.6" y2="963.8" stroke="#000" stroke-width="1.7"/>
<line x1="219" y1="963.8" x2="222.7" y2="963.8" stroke="#000" stroke-width="1.2"/>
<text x="216.3" y="966.86" font-size="7.4" text-anchor="end" textLength="4.4" lengthAdjust="spacingAndGlyphs">0</text>
<line x1="219" y1="936.5" x2="222.7" y2="936.5" stroke="#000" stroke-width="1.2"/>
<text x="216.3" y="939.76" font-size="7.4" text-anchor="end" textLength="19.81" lengthAdjust="spacingAndGlyphs">5,000</text>
<line x1="219" y1="909.3" x2="222.7" y2="909.3" stroke="#000" stroke-width="1.2"/>
<text x="216.3" y="912.56" font-size="7.4" text-anchor="end" textLength="24.21" lengthAdjust="spacingAndGlyphs">10,000</text>
<line x1="219" y1="882" x2="222.7" y2="882" stroke="#000" stroke-width="1.2"/>
<text x="216.3" y="885.26" font-size="7.4" text-anchor="end" textLength="24.21" lengthAdjust="spacingAndGlyphs">15,000</text>
<line x1="219" y1="854.8" x2="222.7" y2="854.8" stroke="#000" stroke-width="1.2"/>
<text x="216.3" y="858.06" font-size="7.4" text-anchor="end" textLength="24.21" lengthAdjust="spacingAndGlyphs">20,000</text>
<text x="183.6" y="916.5" font-size="7.6" text-anchor="middle" textLength="79.6" lengthAdjust="spacingAndGlyphs" transform="rotate(-90 183.6 916.5)">Granzyme B (pg/mL)</text>
<text x="198.4" y="974.6" font-size="7.3" textLength="18.2" lengthAdjust="spacingAndGlyphs">rhCC:</text>
<text x="198.4" y="984.4" font-size="7.3" textLength="19" lengthAdjust="spacingAndGlyphs">rhIL2:</text>
<text x="231.45" y="974.6" font-size="7.3" text-anchor="middle">0</text>
<text x="231.45" y="984.4" font-size="7.3" text-anchor="middle">0</text>
<text x="248.75" y="974.6" font-size="7.3" text-anchor="middle">1</text>
<text x="248.75" y="984.4" font-size="7.3" text-anchor="middle">0</text>
<text x="266.35" y="974.6" font-size="7.3" text-anchor="middle">10</text>
<text x="266.35" y="984.4" font-size="7.3" text-anchor="middle">0</text>
<text x="283.65" y="974.6" font-size="7.3" text-anchor="middle">100</text>
<text x="283.65" y="984.4" font-size="7.3" text-anchor="middle">0</text>
<text x="301.15" y="974.6" font-size="7.3" text-anchor="middle">0</text>
<text x="301.15" y="984.4" font-size="7.3" text-anchor="middle">20</text>
<text x="308.6" y="974.6" font-size="7.3" textLength="24.4" lengthAdjust="spacingAndGlyphs">(ng/mL)</text>
<line x1="382.45" y1="948.1" x2="382.45" y2="946.5" stroke="#000" stroke-width="1.2"/>
<line x1="378.95" y1="946.5" x2="385.95" y2="946.5" stroke="#000" stroke-width="1.2"/>
<rect x="376.75" y="948.45" width="11.4" height="15.35" fill="#ffffff" stroke="#000" stroke-width="1.3"/>
<line x1="400.05" y1="924.6" x2="400.05" y2="921.5" stroke="#000" stroke-width="1.2"/>
<line x1="396.55" y1="921.5" x2="403.55" y2="921.5" stroke="#000" stroke-width="1.2"/>
<rect x="394.65" y="924.95" width="10.8" height="38.85" fill="#b8b8b8" stroke="#000" stroke-width="1.3"/>
<text x="400.05" y="922.9" font-size="9.4" text-anchor="middle" textLength="7.4" lengthAdjust="spacingAndGlyphs">**</text>
<line x1="417.55" y1="876.9" x2="417.55" y2="863.8" stroke="#000" stroke-width="1.2"/>
<line x1="414.05" y1="863.8" x2="421.05" y2="863.8" stroke="#000" stroke-width="1.2"/>
<rect x="411.95" y="877.25" width="11.2" height="86.55" fill="#747474" stroke="#000" stroke-width="1.3"/>
<text x="417.55" y="863.9" font-size="9.4" text-anchor="middle" textLength="3.7" lengthAdjust="spacingAndGlyphs">*</text>
<line x1="434.85" y1="898.1" x2="434.85" y2="896.5" stroke="#000" stroke-width="1.2"/>
<line x1="431.35" y1="896.5" x2="438.35" y2="896.5" stroke="#000" stroke-width="1.2"/>
<rect x="429.25" y="898.45" width="11.2" height="65.35" fill="#2b2b2b" stroke="#000" stroke-width="1.3"/>
<text x="434.85" y="895.6" font-size="9.4" text-anchor="middle" textLength="11.1" lengthAdjust="spacingAndGlyphs">***</text>
<line x1="452.15" y1="877.3" x2="452.15" y2="875.4" stroke="#000" stroke-width="1.2"/>
<line x1="448.65" y1="875.4" x2="455.65" y2="875.4" stroke="#000" stroke-width="1.2"/>
<rect x="446.55" y="877.65" width="11.2" height="86.15" fill="#000000" stroke="#000" stroke-width="1.3"/>
<text x="452.15" y="875.4" font-size="9.4" text-anchor="middle" textLength="11.1" lengthAdjust="spacingAndGlyphs">***</text>
<line x1="373.8" y1="852.5" x2="373.8" y2="964.65" stroke="#000" stroke-width="1.7"/>
<line x1="372.95" y1="963.8" x2="460.2" y2="963.8" stroke="#000" stroke-width="1.7"/>
<line x1="370.1" y1="963.8" x2="373.8" y2="963.8" stroke="#000" stroke-width="1.2"/>
<text x="366.9" y="966.56" font-size="7.4" text-anchor="end" textLength="4.4" lengthAdjust="spacingAndGlyphs">0</text>
<line x1="370.1" y1="936.1" x2="373.8" y2="936.1" stroke="#000" stroke-width="1.2"/>
<text x="366.9" y="939.56" font-size="7.4" text-anchor="end" textLength="24.21" lengthAdjust="spacingAndGlyphs">10,000</text>
<line x1="370.1" y1="908.4" x2="373.8" y2="908.4" stroke="#000" stroke-width="1.2"/>
<text x="366.9" y="911.86" font-size="7.4" text-anchor="end" textLength="24.21" lengthAdjust="spacingAndGlyphs">20,000</text>
<line x1="370.1" y1="880.7" x2="373.8" y2="880.7" stroke="#000" stroke-width="1.2"/>
<text x="366.9" y="884.16" font-size="7.4" text-anchor="end" textLength="24.21" lengthAdjust="spacingAndGlyphs">30,000</text>
<line x1="370.1" y1="853.1" x2="373.8" y2="853.1" stroke="#000" stroke-width="1.2"/>
<text x="366.9" y="856.56" font-size="7.4" text-anchor="end" textLength="24.21" lengthAdjust="spacingAndGlyphs">40,000</text>
<text x="335.3" y="914.8" font-size="7.6" text-anchor="middle" textLength="46.4" lengthAdjust="spacingAndGlyphs" transform="rotate(-90 335.3 914.8)">IFNγ (pg/mL)</text>
<text x="349" y="974.6" font-size="7.3" textLength="18.2" lengthAdjust="spacingAndGlyphs">rhCC:</text>
<text x="349" y="984.4" font-size="7.3" textLength="19" lengthAdjust="spacingAndGlyphs">rhIL2:</text>
<text x="383.8" y="974.6" font-size="7.3" text-anchor="middle">0</text>
<text x="383.8" y="984.4" font-size="7.3" text-anchor="middle">0</text>
<text x="401.1" y="974.6" font-size="7.3" text-anchor="middle">1</text>
<text x="401.1" y="984.4" font-size="7.3" text-anchor="middle">0</text>
<text x="418.5" y="974.6" font-size="7.3" text-anchor="middle">10</text>
<text x="418.5" y="984.4" font-size="7.3" text-anchor="middle">0</text>
<text x="435.4" y="974.6" font-size="7.3" text-anchor="middle">100</text>
<text x="435.4" y="984.4" font-size="7.3" text-anchor="middle">0</text>
<text x="453" y="974.6" font-size="7.3" text-anchor="middle">0</text>
<text x="453" y="984.4" font-size="7.3" text-anchor="middle">20</text>
<text x="459.2" y="974.6" font-size="7.3" textLength="24.4" lengthAdjust="spacingAndGlyphs">(ng/mL)</text>
</svg></body></html>
